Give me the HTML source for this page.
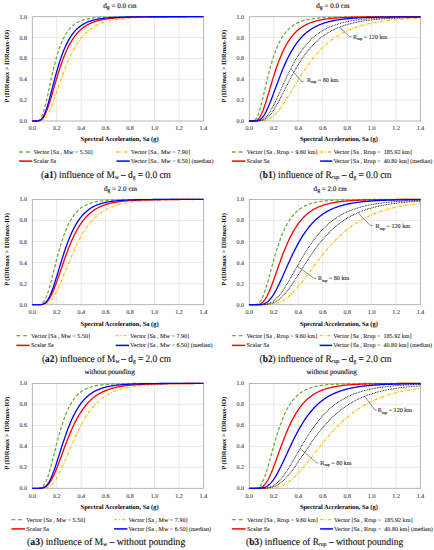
<!DOCTYPE html>
<html><head><meta charset="utf-8"><style>
html,body{margin:0;padding:0;background:#fff;}
svg{display:block;font-family:"Liberation Serif", serif;text-rendering:geometricPrecision;}
.tk{font-size:6.1px;fill:#4a4a4a;stroke:#4a4a4a;stroke-width:0.12px;}
.ti{font-size:7.1px;fill:#1a1a1a;stroke:#1a1a1a;stroke-width:0.15px;}
.an{font-size:6.1px;fill:#333;stroke:#333;stroke-width:0.15px;}
.lg{font-size:6.1px;fill:#2a2a2a;stroke:#2a2a2a;stroke-width:0.1px;}
.cp{font-size:10.1px;fill:#111;stroke:#111;stroke-width:0.12px;}
</style></head><body>
<svg width="434" height="550" viewBox="0 0 434 550">
<rect width="434" height="550" fill="#fff"/>
<path d="M56.74 16.70V121.00M81.19 16.70V121.00M105.63 16.70V121.00M130.07 16.70V121.00M154.51 16.70V121.00M178.96 16.70V121.00M32.30 100.14H203.40M32.30 79.28H203.40M32.30 58.42H203.40M32.30 37.56H203.40" stroke="#E0E0E0" stroke-width="0.7" fill="none"/>
<rect x="32.30" y="16.70" width="171.10" height="104.30" fill="none" stroke="#A6A6A6" stroke-width="0.8"/>
<text x="27.10" y="123.00" text-anchor="end" class="tk">0.0</text>
<text x="27.10" y="102.14" text-anchor="end" class="tk">0.2</text>
<text x="27.10" y="81.28" text-anchor="end" class="tk">0.4</text>
<text x="27.10" y="60.42" text-anchor="end" class="tk">0.6</text>
<text x="27.10" y="39.56" text-anchor="end" class="tk">0.8</text>
<text x="27.10" y="18.70" text-anchor="end" class="tk">1.0</text>
<text x="32.30" y="130.30" text-anchor="middle" class="tk">0.0</text>
<text x="56.74" y="130.30" text-anchor="middle" class="tk">0.2</text>
<text x="81.19" y="130.30" text-anchor="middle" class="tk">0.4</text>
<text x="105.63" y="130.30" text-anchor="middle" class="tk">0.6</text>
<text x="130.07" y="130.30" text-anchor="middle" class="tk">0.8</text>
<text x="154.51" y="130.30" text-anchor="middle" class="tk">1.0</text>
<text x="178.96" y="130.30" text-anchor="middle" class="tk">1.2</text>
<text x="203.40" y="130.30" text-anchor="middle" class="tk">1.4</text>
<text transform="translate(9.30,66.25) rotate(-90)" text-anchor="middle" font-size="6.4" font-weight="bold" fill="#000">P (IDR<tspan font-size="6.4">max</tspan> &gt; IDR<tspan>max-IO</tspan>)</text>
<text x="119.60" y="140.70" text-anchor="middle" font-size="6.45" font-weight="bold" fill="#000">Spectral Acceleration, Sa (g)</text>
<text x="119.90" y="8.20" text-anchor="middle" class="ti">d<tspan font-size="5.6" dy="0.9">g</tspan><tspan dy="-0.9"> = 0.0 cm</tspan></text>
<polyline points="32.30,121.00 32.91,121.00 33.52,121.00 34.13,121.00 34.74,121.00 35.36,121.00 35.97,120.99 36.58,120.96 37.19,120.90 37.80,120.78 38.41,120.56 39.02,120.22 39.63,119.73 40.24,119.05 40.85,118.16 41.47,117.07 42.08,115.75 42.69,114.20 43.30,112.45 43.91,110.49 44.52,108.36 45.13,106.05 45.74,103.61 46.35,101.04 46.97,98.38 47.58,95.65 48.19,92.86 48.80,90.04 49.41,87.21 50.02,84.38 50.63,81.57 51.24,78.79 51.85,76.05 52.47,73.37 53.08,70.75 53.69,68.19 54.30,65.71 54.91,63.31 55.52,61.00 56.13,58.76 56.74,56.61 57.35,54.55 57.97,52.57 58.58,50.68 59.19,48.87 59.80,47.15 60.41,45.50 61.02,43.94 61.63,42.45 62.24,41.03 62.85,39.69 63.46,38.41 64.08,37.21 64.69,36.06 65.30,34.98 65.91,33.95 66.52,32.98 67.13,32.06 67.74,31.19 68.35,30.37 68.96,29.60 69.58,28.87 70.19,28.18 70.80,27.53 71.41,26.92 72.02,26.34 72.63,25.79 73.24,25.27 73.85,24.79 74.46,24.33 75.08,23.90 75.69,23.49 76.30,23.11 76.91,22.75 77.52,22.41 78.13,22.09 78.74,21.78 79.35,21.50 79.96,21.23 80.57,20.98 81.19,20.74 81.80,20.51 82.41,20.30 83.02,20.10 83.63,19.91 84.24,19.74 84.85,19.57 85.46,19.41 86.07,19.26 86.69,19.12 87.30,18.99 87.91,18.86 88.52,18.75 89.13,18.64 89.74,18.53 90.35,18.43 90.96,18.34 91.57,18.25 92.19,18.17 92.80,18.09 93.41,18.01 94.02,17.94 94.63,17.88 95.24,17.82 95.85,17.76 96.46,17.70 97.07,17.65 97.68,17.60 98.30,17.55 98.91,17.51 99.52,17.47 100.13,17.43 100.74,17.39 101.35,17.35 101.96,17.32 102.57,17.29 103.18,17.26 103.80,17.23 104.41,17.20 105.02,17.18 105.63,17.15 106.24,17.13 106.85,17.11 107.46,17.09 108.07,17.07 108.68,17.05 109.30,17.03 109.91,17.02 110.52,17.00 111.13,16.99 111.74,16.97 112.35,16.96 112.96,16.95 113.57,16.93 114.18,16.92 114.79,16.91 115.41,16.90 116.02,16.89 116.63,16.88 117.24,16.87 117.85,16.87 118.46,16.86 119.07,16.85 119.68,16.84 120.29,16.84 120.91,16.83 121.52,16.82 122.13,16.82 122.74,16.81 123.35,16.81 123.96,16.80 124.57,16.80 125.18,16.79 125.79,16.79 126.41,16.78 127.02,16.78 127.63,16.78 128.24,16.77 128.85,16.77 129.46,16.77 130.07,16.76 130.68,16.76 131.29,16.76 131.90,16.76 132.52,16.75 133.13,16.75 133.74,16.75 134.35,16.75 134.96,16.74 135.57,16.74 136.18,16.74 136.79,16.74 137.40,16.74 138.02,16.74 138.63,16.73 139.24,16.73 139.85,16.73 140.46,16.73 141.07,16.73 141.68,16.73 142.29,16.73 142.90,16.72 143.52,16.72 144.13,16.72 144.74,16.72 145.35,16.72 145.96,16.72 146.57,16.72 147.18,16.72 147.79,16.72 148.40,16.72 149.01,16.72 149.63,16.72 150.24,16.71 150.85,16.71 151.46,16.71 152.07,16.71 152.68,16.71 153.29,16.71 153.90,16.71 154.51,16.71 155.13,16.71 155.74,16.71 156.35,16.71 156.96,16.71 157.57,16.71 158.18,16.71 158.79,16.71 159.40,16.71 160.01,16.71 160.62,16.71 161.24,16.71 161.85,16.71 162.46,16.71 163.07,16.71 163.68,16.71 164.29,16.71 164.90,16.71 165.51,16.71 166.12,16.71 166.74,16.70 167.35,16.70 167.96,16.70 168.57,16.70 169.18,16.70 169.79,16.70 170.40,16.70 171.01,16.70 171.62,16.70 172.24,16.70 172.85,16.70 173.46,16.70 174.07,16.70 174.68,16.70 175.29,16.70 175.90,16.70 176.51,16.70 177.12,16.70 177.74,16.70 178.35,16.70 178.96,16.70 179.57,16.70 180.18,16.70 180.79,16.70 181.40,16.70 182.01,16.70 182.62,16.70 183.23,16.70 183.85,16.70 184.46,16.70 185.07,16.70 185.68,16.70 186.29,16.70 186.90,16.70 187.51,16.70 188.12,16.70 188.73,16.70 189.35,16.70 189.96,16.70 190.57,16.70 191.18,16.70 191.79,16.70 192.40,16.70 193.01,16.70 193.62,16.70 194.23,16.70 194.85,16.70 195.46,16.70 196.07,16.70 196.68,16.70 197.29,16.70 197.90,16.70 198.51,16.70 199.12,16.70 199.73,16.70 200.34,16.70 200.96,16.70 201.57,16.70 202.18,16.70 202.79,16.70 203.40,16.70" fill="none" stroke="#70AD47" stroke-width="1.3" stroke-dasharray="3.4 2.0" stroke-linejoin="round"/>
<polyline points="32.30,121.00 32.91,121.00 33.52,121.00 34.13,121.00 34.74,121.00 35.36,121.00 35.97,121.00 36.58,121.00 37.19,120.99 37.80,120.98 38.41,120.96 39.02,120.93 39.63,120.87 40.24,120.78 40.85,120.65 41.47,120.47 42.08,120.24 42.69,119.93 43.30,119.56 43.91,119.10 44.52,118.56 45.13,117.93 45.74,117.21 46.35,116.39 46.97,115.49 47.58,114.49 48.19,113.41 48.80,112.24 49.41,110.99 50.02,109.66 50.63,108.27 51.24,106.81 51.85,105.29 52.47,103.71 53.08,102.09 53.69,100.43 54.30,98.74 54.91,97.01 55.52,95.26 56.13,93.50 56.74,91.72 57.35,89.93 57.97,88.14 58.58,86.35 59.19,84.56 59.80,82.78 60.41,81.02 61.02,79.27 61.63,77.54 62.24,75.83 62.85,74.14 63.46,72.48 64.08,70.84 64.69,69.23 65.30,67.65 65.91,66.10 66.52,64.59 67.13,63.10 67.74,61.65 68.35,60.23 68.96,58.85 69.58,57.50 70.19,56.18 70.80,54.90 71.41,53.65 72.02,52.44 72.63,51.26 73.24,50.11 73.85,49.00 74.46,47.91 75.08,46.86 75.69,45.85 76.30,44.86 76.91,43.90 77.52,42.97 78.13,42.07 78.74,41.20 79.35,40.36 79.96,39.55 80.57,38.76 81.19,37.99 81.80,37.26 82.41,36.54 83.02,35.85 83.63,35.19 84.24,34.54 84.85,33.92 85.46,33.32 86.07,32.74 86.69,32.18 87.30,31.64 87.91,31.11 88.52,30.61 89.13,30.12 89.74,29.65 90.35,29.20 90.96,28.76 91.57,28.34 92.19,27.93 92.80,27.54 93.41,27.16 94.02,26.79 94.63,26.44 95.24,26.10 95.85,25.77 96.46,25.46 97.07,25.15 97.68,24.86 98.30,24.57 98.91,24.30 99.52,24.03 100.13,23.78 100.74,23.53 101.35,23.30 101.96,23.07 102.57,22.85 103.18,22.64 103.80,22.43 104.41,22.23 105.02,22.04 105.63,21.86 106.24,21.68 106.85,21.51 107.46,21.35 108.07,21.19 108.68,21.03 109.30,20.89 109.91,20.74 110.52,20.61 111.13,20.47 111.74,20.34 112.35,20.22 112.96,20.10 113.57,19.99 114.18,19.88 114.79,19.77 115.41,19.67 116.02,19.57 116.63,19.47 117.24,19.38 117.85,19.29 118.46,19.20 119.07,19.12 119.68,19.04 120.29,18.96 120.91,18.89 121.52,18.81 122.13,18.74 122.74,18.68 123.35,18.61 123.96,18.55 124.57,18.49 125.18,18.43 125.79,18.37 126.41,18.32 127.02,18.27 127.63,18.21 128.24,18.17 128.85,18.12 129.46,18.07 130.07,18.03 130.68,17.99 131.29,17.94 131.90,17.90 132.52,17.87 133.13,17.83 133.74,17.79 134.35,17.76 134.96,17.72 135.57,17.69 136.18,17.66 136.79,17.63 137.40,17.60 138.02,17.57 138.63,17.54 139.24,17.52 139.85,17.49 140.46,17.47 141.07,17.44 141.68,17.42 142.29,17.40 142.90,17.38 143.52,17.36 144.13,17.34 144.74,17.32 145.35,17.30 145.96,17.28 146.57,17.26 147.18,17.24 147.79,17.23 148.40,17.21 149.01,17.19 149.63,17.18 150.24,17.17 150.85,17.15 151.46,17.14 152.07,17.12 152.68,17.11 153.29,17.10 153.90,17.09 154.51,17.08 155.13,17.06 155.74,17.05 156.35,17.04 156.96,17.03 157.57,17.02 158.18,17.01 158.79,17.00 159.40,17.00 160.01,16.99 160.62,16.98 161.24,16.97 161.85,16.96 162.46,16.95 163.07,16.95 163.68,16.94 164.29,16.93 164.90,16.93 165.51,16.92 166.12,16.91 166.74,16.91 167.35,16.90 167.96,16.90 168.57,16.89 169.18,16.88 169.79,16.88 170.40,16.87 171.01,16.87 171.62,16.86 172.24,16.86 172.85,16.85 173.46,16.85 174.07,16.85 174.68,16.84 175.29,16.84 175.90,16.83 176.51,16.83 177.12,16.83 177.74,16.82 178.35,16.82 178.96,16.82 179.57,16.81 180.18,16.81 180.79,16.81 181.40,16.80 182.01,16.80 182.62,16.80 183.23,16.80 183.85,16.79 184.46,16.79 185.07,16.79 185.68,16.79 186.29,16.78 186.90,16.78 187.51,16.78 188.12,16.78 188.73,16.77 189.35,16.77 189.96,16.77 190.57,16.77 191.18,16.77 191.79,16.77 192.40,16.76 193.01,16.76 193.62,16.76 194.23,16.76 194.85,16.76 195.46,16.76 196.07,16.75 196.68,16.75 197.29,16.75 197.90,16.75 198.51,16.75 199.12,16.75 199.73,16.75 200.34,16.74 200.96,16.74 201.57,16.74 202.18,16.74 202.79,16.74 203.40,16.74" fill="none" stroke="#FFC000" stroke-width="1.2" stroke-dasharray="3.2 1.3 0.9 1.3" stroke-linejoin="round"/>
<polyline points="32.30,121.00 32.91,121.00 33.52,121.00 34.13,121.00 34.74,121.00 35.36,121.00 35.97,121.00 36.58,120.99 37.19,120.97 37.80,120.94 38.41,120.87 39.02,120.76 39.63,120.59 40.24,120.34 40.85,120.01 41.47,119.57 42.08,119.02 42.69,118.35 43.30,117.56 43.91,116.63 44.52,115.57 45.13,114.39 45.74,113.08 46.35,111.66 46.97,110.12 47.58,108.49 48.19,106.76 48.80,104.95 49.41,103.07 50.02,101.12 50.63,99.12 51.24,97.08 51.85,95.01 52.47,92.92 53.08,90.80 53.69,88.68 54.30,86.56 54.91,84.45 55.52,82.35 56.13,80.27 56.74,78.21 57.35,76.18 57.97,74.18 58.58,72.21 59.19,70.29 59.80,68.40 60.41,66.56 61.02,64.76 61.63,63.00 62.24,61.29 62.85,59.63 63.46,58.02 64.08,56.45 64.69,54.93 65.30,53.46 65.91,52.04 66.52,50.66 67.13,49.33 67.74,48.05 68.35,46.81 68.96,45.61 69.58,44.46 70.19,43.34 70.80,42.27 71.41,41.24 72.02,40.25 72.63,39.30 73.24,38.38 73.85,37.50 74.46,36.65 75.08,35.83 75.69,35.05 76.30,34.30 76.91,33.58 77.52,32.89 78.13,32.22 78.74,31.58 79.35,30.97 79.96,30.39 80.57,29.82 81.19,29.28 81.80,28.77 82.41,28.27 83.02,27.80 83.63,27.34 84.24,26.90 84.85,26.48 85.46,26.08 86.07,25.70 86.69,25.33 87.30,24.98 87.91,24.64 88.52,24.31 89.13,24.00 89.74,23.71 90.35,23.42 90.96,23.15 91.57,22.89 92.19,22.64 92.80,22.40 93.41,22.17 94.02,21.95 94.63,21.73 95.24,21.53 95.85,21.34 96.46,21.15 97.07,20.97 97.68,20.80 98.30,20.64 98.91,20.48 99.52,20.33 100.13,20.19 100.74,20.05 101.35,19.92 101.96,19.79 102.57,19.67 103.18,19.55 103.80,19.44 104.41,19.33 105.02,19.23 105.63,19.13 106.24,19.04 106.85,18.95 107.46,18.86 108.07,18.77 108.68,18.69 109.30,18.62 109.91,18.54 110.52,18.47 111.13,18.41 111.74,18.34 112.35,18.28 112.96,18.22 113.57,18.16 114.18,18.10 114.79,18.05 115.41,18.00 116.02,17.95 116.63,17.90 117.24,17.86 117.85,17.82 118.46,17.77 119.07,17.73 119.68,17.70 120.29,17.66 120.91,17.62 121.52,17.59 122.13,17.56 122.74,17.53 123.35,17.49 123.96,17.47 124.57,17.44 125.18,17.41 125.79,17.39 126.41,17.36 127.02,17.34 127.63,17.31 128.24,17.29 128.85,17.27 129.46,17.25 130.07,17.23 130.68,17.21 131.29,17.19 131.90,17.18 132.52,17.16 133.13,17.14 133.74,17.13 134.35,17.11 134.96,17.10 135.57,17.08 136.18,17.07 136.79,17.06 137.40,17.04 138.02,17.03 138.63,17.02 139.24,17.01 139.85,17.00 140.46,16.99 141.07,16.98 141.68,16.97 142.29,16.96 142.90,16.95 143.52,16.94 144.13,16.93 144.74,16.93 145.35,16.92 145.96,16.91 146.57,16.90 147.18,16.90 147.79,16.89 148.40,16.88 149.01,16.88 149.63,16.87 150.24,16.87 150.85,16.86 151.46,16.86 152.07,16.85 152.68,16.85 153.29,16.84 153.90,16.84 154.51,16.83 155.13,16.83 155.74,16.82 156.35,16.82 156.96,16.82 157.57,16.81 158.18,16.81 158.79,16.80 159.40,16.80 160.01,16.80 160.62,16.79 161.24,16.79 161.85,16.79 162.46,16.79 163.07,16.78 163.68,16.78 164.29,16.78 164.90,16.78 165.51,16.77 166.12,16.77 166.74,16.77 167.35,16.77 167.96,16.76 168.57,16.76 169.18,16.76 169.79,16.76 170.40,16.76 171.01,16.75 171.62,16.75 172.24,16.75 172.85,16.75 173.46,16.75 174.07,16.75 174.68,16.75 175.29,16.74 175.90,16.74 176.51,16.74 177.12,16.74 177.74,16.74 178.35,16.74 178.96,16.74 179.57,16.74 180.18,16.73 180.79,16.73 181.40,16.73 182.01,16.73 182.62,16.73 183.23,16.73 183.85,16.73 184.46,16.73 185.07,16.73 185.68,16.73 186.29,16.73 186.90,16.72 187.51,16.72 188.12,16.72 188.73,16.72 189.35,16.72 189.96,16.72 190.57,16.72 191.18,16.72 191.79,16.72 192.40,16.72 193.01,16.72 193.62,16.72 194.23,16.72 194.85,16.72 195.46,16.72 196.07,16.72 196.68,16.72 197.29,16.72 197.90,16.71 198.51,16.71 199.12,16.71 199.73,16.71 200.34,16.71 200.96,16.71 201.57,16.71 202.18,16.71 202.79,16.71 203.40,16.71" fill="none" stroke="#FF0000" stroke-width="1.3" stroke-linejoin="round"/>
<polyline points="32.30,121.00 32.91,121.00 33.52,121.00 34.13,121.00 34.74,121.00 35.36,121.00 35.97,121.00 36.58,120.99 37.19,120.97 37.80,120.92 38.41,120.83 39.02,120.68 39.63,120.46 40.24,120.14 40.85,119.71 41.47,119.14 42.08,118.44 42.69,117.58 43.30,116.57 43.91,115.40 44.52,114.08 45.13,112.61 45.74,111.01 46.35,109.27 46.97,107.41 47.58,105.45 48.19,103.39 48.80,101.26 49.41,99.05 50.02,96.80 50.63,94.50 51.24,92.17 51.85,89.83 52.47,87.48 53.08,85.13 53.69,82.79 54.30,80.48 54.91,78.19 55.52,75.93 56.13,73.71 56.74,71.53 57.35,69.40 57.97,67.31 58.58,65.29 59.19,63.31 59.80,61.39 60.41,59.53 61.02,57.73 61.63,55.99 62.24,54.31 62.85,52.68 63.46,51.11 64.08,49.60 64.69,48.15 65.30,46.76 65.91,45.41 66.52,44.13 67.13,42.89 67.74,41.71 68.35,40.57 68.96,39.48 69.58,38.44 70.19,37.44 70.80,36.49 71.41,35.58 72.02,34.71 72.63,33.88 73.24,33.08 73.85,32.32 74.46,31.60 75.08,30.90 75.69,30.24 76.30,29.61 76.91,29.01 77.52,28.44 78.13,27.89 78.74,27.37 79.35,26.88 79.96,26.40 80.57,25.95 81.19,25.52 81.80,25.11 82.41,24.72 83.02,24.35 83.63,24.00 84.24,23.66 84.85,23.34 85.46,23.03 86.07,22.74 86.69,22.46 87.30,22.19 87.91,21.94 88.52,21.70 89.13,21.47 89.74,21.25 90.35,21.05 90.96,20.85 91.57,20.66 92.19,20.48 92.80,20.31 93.41,20.14 94.02,19.99 94.63,19.84 95.24,19.70 95.85,19.56 96.46,19.43 97.07,19.31 97.68,19.20 98.30,19.08 98.91,18.98 99.52,18.88 100.13,18.78 100.74,18.69 101.35,18.60 101.96,18.52 102.57,18.44 103.18,18.36 103.80,18.29 104.41,18.22 105.02,18.15 105.63,18.09 106.24,18.03 106.85,17.97 107.46,17.92 108.07,17.86 108.68,17.81 109.30,17.77 109.91,17.72 110.52,17.68 111.13,17.64 111.74,17.60 112.35,17.56 112.96,17.52 113.57,17.49 114.18,17.45 114.79,17.42 115.41,17.39 116.02,17.36 116.63,17.34 117.24,17.31 117.85,17.28 118.46,17.26 119.07,17.24 119.68,17.21 120.29,17.19 120.91,17.17 121.52,17.15 122.13,17.13 122.74,17.12 123.35,17.10 123.96,17.08 124.57,17.07 125.18,17.05 125.79,17.04 126.41,17.03 127.02,17.01 127.63,17.00 128.24,16.99 128.85,16.98 129.46,16.97 130.07,16.96 130.68,16.94 131.29,16.94 131.90,16.93 132.52,16.92 133.13,16.91 133.74,16.90 134.35,16.89 134.96,16.89 135.57,16.88 136.18,16.87 136.79,16.86 137.40,16.86 138.02,16.85 138.63,16.85 139.24,16.84 139.85,16.84 140.46,16.83 141.07,16.83 141.68,16.82 142.29,16.82 142.90,16.81 143.52,16.81 144.13,16.80 144.74,16.80 145.35,16.80 145.96,16.79 146.57,16.79 147.18,16.79 147.79,16.78 148.40,16.78 149.01,16.78 149.63,16.77 150.24,16.77 150.85,16.77 151.46,16.77 152.07,16.76 152.68,16.76 153.29,16.76 153.90,16.76 154.51,16.75 155.13,16.75 155.74,16.75 156.35,16.75 156.96,16.75 157.57,16.75 158.18,16.74 158.79,16.74 159.40,16.74 160.01,16.74 160.62,16.74 161.24,16.74 161.85,16.74 162.46,16.73 163.07,16.73 163.68,16.73 164.29,16.73 164.90,16.73 165.51,16.73 166.12,16.73 166.74,16.73 167.35,16.73 167.96,16.72 168.57,16.72 169.18,16.72 169.79,16.72 170.40,16.72 171.01,16.72 171.62,16.72 172.24,16.72 172.85,16.72 173.46,16.72 174.07,16.72 174.68,16.72 175.29,16.72 175.90,16.72 176.51,16.72 177.12,16.71 177.74,16.71 178.35,16.71 178.96,16.71 179.57,16.71 180.18,16.71 180.79,16.71 181.40,16.71 182.01,16.71 182.62,16.71 183.23,16.71 183.85,16.71 184.46,16.71 185.07,16.71 185.68,16.71 186.29,16.71 186.90,16.71 187.51,16.71 188.12,16.71 188.73,16.71 189.35,16.71 189.96,16.71 190.57,16.71 191.18,16.71 191.79,16.71 192.40,16.71 193.01,16.71 193.62,16.71 194.23,16.71 194.85,16.71 195.46,16.71 196.07,16.71 196.68,16.71 197.29,16.71 197.90,16.70 198.51,16.70 199.12,16.70 199.73,16.70 200.34,16.70 200.96,16.70 201.57,16.70 202.18,16.70 202.79,16.70 203.40,16.70" fill="none" stroke="#0000FF" stroke-width="1.3" stroke-linejoin="round"/>
<path d="M56.74 199.40V304.70M81.19 199.40V304.70M105.63 199.40V304.70M130.07 199.40V304.70M154.51 199.40V304.70M178.96 199.40V304.70M32.30 283.64H203.40M32.30 262.58H203.40M32.30 241.52H203.40M32.30 220.46H203.40" stroke="#E0E0E0" stroke-width="0.7" fill="none"/>
<rect x="32.30" y="199.40" width="171.10" height="105.30" fill="none" stroke="#A6A6A6" stroke-width="0.8"/>
<text x="27.10" y="306.70" text-anchor="end" class="tk">0.0</text>
<text x="27.10" y="285.64" text-anchor="end" class="tk">0.2</text>
<text x="27.10" y="264.58" text-anchor="end" class="tk">0.4</text>
<text x="27.10" y="243.52" text-anchor="end" class="tk">0.6</text>
<text x="27.10" y="222.46" text-anchor="end" class="tk">0.8</text>
<text x="27.10" y="201.40" text-anchor="end" class="tk">1.0</text>
<text x="32.30" y="314.00" text-anchor="middle" class="tk">0.0</text>
<text x="56.74" y="314.00" text-anchor="middle" class="tk">0.2</text>
<text x="81.19" y="314.00" text-anchor="middle" class="tk">0.4</text>
<text x="105.63" y="314.00" text-anchor="middle" class="tk">0.6</text>
<text x="130.07" y="314.00" text-anchor="middle" class="tk">0.8</text>
<text x="154.51" y="314.00" text-anchor="middle" class="tk">1.0</text>
<text x="178.96" y="314.00" text-anchor="middle" class="tk">1.2</text>
<text x="203.40" y="314.00" text-anchor="middle" class="tk">1.4</text>
<text transform="translate(9.30,249.45) rotate(-90)" text-anchor="middle" font-size="6.4" font-weight="bold" fill="#000">P (IDR<tspan font-size="6.4">max</tspan> &gt; IDR<tspan>max-IO</tspan>)</text>
<text x="119.60" y="325.90" text-anchor="middle" font-size="6.45" font-weight="bold" fill="#000">Spectral Acceleration, Sa (g)</text>
<text x="120.50" y="190.70" text-anchor="middle" class="ti">d<tspan font-size="5.6" dy="0.9">g</tspan><tspan dy="-0.9"> = 2.0 cm</tspan></text>
<polyline points="32.30,304.70 32.91,304.70 33.52,304.70 34.13,304.70 34.74,304.70 35.36,304.70 35.97,304.70 36.58,304.70 37.19,304.69 37.80,304.68 38.41,304.65 39.02,304.60 39.63,304.51 40.24,304.37 40.85,304.15 41.47,303.85 42.08,303.44 42.69,302.91 43.30,302.25 43.91,301.44 44.52,300.49 45.13,299.38 45.74,298.11 46.35,296.70 46.97,295.13 47.58,293.43 48.19,291.60 48.80,289.66 49.41,287.60 50.02,285.46 50.63,283.23 51.24,280.94 51.85,278.59 52.47,276.20 53.08,273.78 53.69,271.35 54.30,268.91 54.91,266.48 55.52,264.05 56.13,261.65 56.74,259.28 57.35,256.95 57.97,254.65 58.58,252.41 59.19,250.21 59.80,248.06 60.41,245.98 61.02,243.95 61.63,241.99 62.24,240.08 62.85,238.24 63.46,236.47 64.08,234.76 64.69,233.11 65.30,231.52 65.91,230.00 66.52,228.54 67.13,227.13 67.74,225.79 68.35,224.50 68.96,223.27 69.58,222.10 70.19,220.97 70.80,219.90 71.41,218.88 72.02,217.90 72.63,216.97 73.24,216.08 73.85,215.24 74.46,214.44 75.08,213.67 75.69,212.95 76.30,212.25 76.91,211.60 77.52,210.97 78.13,210.38 78.74,209.82 79.35,209.28 79.96,208.77 80.57,208.29 81.19,207.83 81.80,207.40 82.41,206.99 83.02,206.60 83.63,206.23 84.24,205.87 84.85,205.54 85.46,205.22 86.07,204.93 86.69,204.64 87.30,204.37 87.91,204.12 88.52,203.87 89.13,203.64 89.74,203.43 90.35,203.22 90.96,203.03 91.57,202.84 92.19,202.66 92.80,202.50 93.41,202.34 94.02,202.19 94.63,202.05 95.24,201.91 95.85,201.79 96.46,201.67 97.07,201.55 97.68,201.44 98.30,201.34 98.91,201.24 99.52,201.15 100.13,201.06 100.74,200.98 101.35,200.90 101.96,200.83 102.57,200.75 103.18,200.69 103.80,200.62 104.41,200.56 105.02,200.51 105.63,200.45 106.24,200.40 106.85,200.35 107.46,200.30 108.07,200.26 108.68,200.22 109.30,200.18 109.91,200.14 110.52,200.10 111.13,200.07 111.74,200.04 112.35,200.01 112.96,199.98 113.57,199.95 114.18,199.92 114.79,199.90 115.41,199.87 116.02,199.85 116.63,199.83 117.24,199.81 117.85,199.79 118.46,199.77 119.07,199.75 119.68,199.74 120.29,199.72 120.91,199.71 121.52,199.69 122.13,199.68 122.74,199.67 123.35,199.65 123.96,199.64 124.57,199.63 125.18,199.62 125.79,199.61 126.41,199.60 127.02,199.59 127.63,199.58 128.24,199.57 128.85,199.57 129.46,199.56 130.07,199.55 130.68,199.54 131.29,199.54 131.90,199.53 132.52,199.53 133.13,199.52 133.74,199.51 134.35,199.51 134.96,199.50 135.57,199.50 136.18,199.50 136.79,199.49 137.40,199.49 138.02,199.48 138.63,199.48 139.24,199.48 139.85,199.47 140.46,199.47 141.07,199.47 141.68,199.46 142.29,199.46 142.90,199.46 143.52,199.46 144.13,199.45 144.74,199.45 145.35,199.45 145.96,199.45 146.57,199.44 147.18,199.44 147.79,199.44 148.40,199.44 149.01,199.44 149.63,199.44 150.24,199.43 150.85,199.43 151.46,199.43 152.07,199.43 152.68,199.43 153.29,199.43 153.90,199.43 154.51,199.43 155.13,199.42 155.74,199.42 156.35,199.42 156.96,199.42 157.57,199.42 158.18,199.42 158.79,199.42 159.40,199.42 160.01,199.42 160.62,199.42 161.24,199.42 161.85,199.42 162.46,199.41 163.07,199.41 163.68,199.41 164.29,199.41 164.90,199.41 165.51,199.41 166.12,199.41 166.74,199.41 167.35,199.41 167.96,199.41 168.57,199.41 169.18,199.41 169.79,199.41 170.40,199.41 171.01,199.41 171.62,199.41 172.24,199.41 172.85,199.41 173.46,199.41 174.07,199.41 174.68,199.41 175.29,199.41 175.90,199.41 176.51,199.41 177.12,199.41 177.74,199.41 178.35,199.41 178.96,199.40 179.57,199.40 180.18,199.40 180.79,199.40 181.40,199.40 182.01,199.40 182.62,199.40 183.23,199.40 183.85,199.40 184.46,199.40 185.07,199.40 185.68,199.40 186.29,199.40 186.90,199.40 187.51,199.40 188.12,199.40 188.73,199.40 189.35,199.40 189.96,199.40 190.57,199.40 191.18,199.40 191.79,199.40 192.40,199.40 193.01,199.40 193.62,199.40 194.23,199.40 194.85,199.40 195.46,199.40 196.07,199.40 196.68,199.40 197.29,199.40 197.90,199.40 198.51,199.40 199.12,199.40 199.73,199.40 200.34,199.40 200.96,199.40 201.57,199.40 202.18,199.40 202.79,199.40 203.40,199.40" fill="none" stroke="#70AD47" stroke-width="1.3" stroke-dasharray="3.4 2.0" stroke-linejoin="round"/>
<polyline points="32.30,304.70 32.91,304.70 33.52,304.70 34.13,304.70 34.74,304.70 35.36,304.70 35.97,304.70 36.58,304.70 37.19,304.70 37.80,304.70 38.41,304.70 39.02,304.70 39.63,304.69 40.24,304.69 40.85,304.67 41.47,304.65 42.08,304.62 42.69,304.58 43.30,304.51 43.91,304.43 44.52,304.31 45.13,304.17 45.74,303.99 46.35,303.77 46.97,303.50 47.58,303.19 48.19,302.82 48.80,302.40 49.41,301.92 50.02,301.38 50.63,300.77 51.24,300.11 51.85,299.38 52.47,298.59 53.08,297.74 53.69,296.83 54.30,295.86 54.91,294.83 55.52,293.75 56.13,292.62 56.74,291.43 57.35,290.20 57.97,288.93 58.58,287.62 59.19,286.27 59.80,284.88 60.41,283.47 61.02,282.03 61.63,280.57 62.24,279.09 62.85,277.59 63.46,276.08 64.08,274.55 64.69,273.02 65.30,271.49 65.91,269.95 66.52,268.42 67.13,266.88 67.74,265.36 68.35,263.84 68.96,262.33 69.58,260.83 70.19,259.34 70.80,257.87 71.41,256.42 72.02,254.98 72.63,253.56 73.24,252.16 73.85,250.78 74.46,249.42 75.08,248.09 75.69,246.78 76.30,245.49 76.91,244.22 77.52,242.98 78.13,241.77 78.74,240.58 79.35,239.41 79.96,238.27 80.57,237.15 81.19,236.06 81.80,235.00 82.41,233.95 83.02,232.94 83.63,231.95 84.24,230.98 84.85,230.04 85.46,229.12 86.07,228.23 86.69,227.36 87.30,226.51 87.91,225.68 88.52,224.88 89.13,224.10 89.74,223.34 90.35,222.60 90.96,221.88 91.57,221.19 92.19,220.51 92.80,219.85 93.41,219.21 94.02,218.59 94.63,217.99 95.24,217.41 95.85,216.84 96.46,216.29 97.07,215.76 97.68,215.24 98.30,214.74 98.91,214.25 99.52,213.78 100.13,213.32 100.74,212.88 101.35,212.45 101.96,212.03 102.57,211.63 103.18,211.24 103.80,210.86 104.41,210.50 105.02,210.14 105.63,209.80 106.24,209.47 106.85,209.14 107.46,208.83 108.07,208.53 108.68,208.24 109.30,207.95 109.91,207.68 110.52,207.41 111.13,207.16 111.74,206.91 112.35,206.67 112.96,206.44 113.57,206.21 114.18,205.99 114.79,205.78 115.41,205.58 116.02,205.38 116.63,205.19 117.24,205.00 117.85,204.82 118.46,204.65 119.07,204.48 119.68,204.32 120.29,204.17 120.91,204.01 121.52,203.87 122.13,203.72 122.74,203.59 123.35,203.45 123.96,203.33 124.57,203.20 125.18,203.08 125.79,202.96 126.41,202.85 127.02,202.74 127.63,202.64 128.24,202.53 128.85,202.44 129.46,202.34 130.07,202.25 130.68,202.16 131.29,202.07 131.90,201.99 132.52,201.91 133.13,201.83 133.74,201.75 134.35,201.68 134.96,201.61 135.57,201.54 136.18,201.47 136.79,201.41 137.40,201.34 138.02,201.28 138.63,201.23 139.24,201.17 139.85,201.11 140.46,201.06 141.07,201.01 141.68,200.96 142.29,200.91 142.90,200.87 143.52,200.82 144.13,200.78 144.74,200.74 145.35,200.69 145.96,200.65 146.57,200.62 147.18,200.58 147.79,200.54 148.40,200.51 149.01,200.47 149.63,200.44 150.24,200.41 150.85,200.38 151.46,200.35 152.07,200.32 152.68,200.29 153.29,200.27 153.90,200.24 154.51,200.22 155.13,200.19 155.74,200.17 156.35,200.14 156.96,200.12 157.57,200.10 158.18,200.08 158.79,200.06 159.40,200.04 160.01,200.02 160.62,200.00 161.24,199.98 161.85,199.97 162.46,199.95 163.07,199.93 163.68,199.92 164.29,199.90 164.90,199.89 165.51,199.87 166.12,199.86 166.74,199.85 167.35,199.83 167.96,199.82 168.57,199.81 169.18,199.80 169.79,199.79 170.40,199.77 171.01,199.76 171.62,199.75 172.24,199.74 172.85,199.73 173.46,199.72 174.07,199.71 174.68,199.71 175.29,199.70 175.90,199.69 176.51,199.68 177.12,199.67 177.74,199.66 178.35,199.66 178.96,199.65 179.57,199.64 180.18,199.64 180.79,199.63 181.40,199.62 182.01,199.62 182.62,199.61 183.23,199.60 183.85,199.60 184.46,199.59 185.07,199.59 185.68,199.58 186.29,199.58 186.90,199.57 187.51,199.57 188.12,199.56 188.73,199.56 189.35,199.55 189.96,199.55 190.57,199.55 191.18,199.54 191.79,199.54 192.40,199.53 193.01,199.53 193.62,199.53 194.23,199.52 194.85,199.52 195.46,199.52 196.07,199.51 196.68,199.51 197.29,199.51 197.90,199.50 198.51,199.50 199.12,199.50 199.73,199.50 200.34,199.49 200.96,199.49 201.57,199.49 202.18,199.49 202.79,199.48 203.40,199.48" fill="none" stroke="#FFC000" stroke-width="1.2" stroke-dasharray="3.2 1.3 0.9 1.3" stroke-linejoin="round"/>
<polyline points="32.30,304.70 32.91,304.70 33.52,304.70 34.13,304.70 34.74,304.70 35.36,304.70 35.97,304.70 36.58,304.70 37.19,304.70 37.80,304.70 38.41,304.69 39.02,304.69 39.63,304.67 40.24,304.64 40.85,304.60 41.47,304.54 42.08,304.44 42.69,304.31 43.30,304.13 43.91,303.91 44.52,303.62 45.13,303.27 45.74,302.85 46.35,302.35 46.97,301.77 47.58,301.11 48.19,300.36 48.80,299.52 49.41,298.60 50.02,297.59 50.63,296.50 51.24,295.33 51.85,294.08 52.47,292.76 53.08,291.37 53.69,289.91 54.30,288.40 54.91,286.83 55.52,285.21 56.13,283.56 56.74,281.86 57.35,280.13 57.97,278.38 58.58,276.61 59.19,274.82 59.80,273.02 60.41,271.21 61.02,269.40 61.63,267.60 62.24,265.80 62.85,264.01 63.46,262.23 64.08,260.47 64.69,258.72 65.30,257.00 65.91,255.30 66.52,253.63 67.13,251.98 67.74,250.37 68.35,248.78 68.96,247.22 69.58,245.70 70.19,244.21 70.80,242.75 71.41,241.33 72.02,239.94 72.63,238.59 73.24,237.27 73.85,235.98 74.46,234.73 75.08,233.52 75.69,232.34 76.30,231.19 76.91,230.08 77.52,229.00 78.13,227.96 78.74,226.94 79.35,225.96 79.96,225.01 80.57,224.09 81.19,223.20 81.80,222.33 82.41,221.50 83.02,220.69 83.63,219.92 84.24,219.16 84.85,218.44 85.46,217.74 86.07,217.06 86.69,216.41 87.30,215.78 87.91,215.17 88.52,214.58 89.13,214.02 89.74,213.47 90.35,212.95 90.96,212.44 91.57,211.96 92.19,211.49 92.80,211.03 93.41,210.60 94.02,210.18 94.63,209.77 95.24,209.38 95.85,209.01 96.46,208.65 97.07,208.30 97.68,207.97 98.30,207.64 98.91,207.33 99.52,207.04 100.13,206.75 100.74,206.47 101.35,206.21 101.96,205.95 102.57,205.71 103.18,205.47 103.80,205.24 104.41,205.02 105.02,204.81 105.63,204.61 106.24,204.41 106.85,204.23 107.46,204.05 108.07,203.87 108.68,203.71 109.30,203.55 109.91,203.39 110.52,203.24 111.13,203.10 111.74,202.96 112.35,202.83 112.96,202.70 113.57,202.58 114.18,202.46 114.79,202.35 115.41,202.24 116.02,202.14 116.63,202.04 117.24,201.94 117.85,201.85 118.46,201.76 119.07,201.67 119.68,201.59 120.29,201.51 120.91,201.43 121.52,201.36 122.13,201.28 122.74,201.22 123.35,201.15 123.96,201.09 124.57,201.02 125.18,200.97 125.79,200.91 126.41,200.86 127.02,200.80 127.63,200.75 128.24,200.70 128.85,200.66 129.46,200.61 130.07,200.57 130.68,200.53 131.29,200.49 131.90,200.45 132.52,200.41 133.13,200.37 133.74,200.34 134.35,200.31 134.96,200.27 135.57,200.24 136.18,200.21 136.79,200.19 137.40,200.16 138.02,200.13 138.63,200.11 139.24,200.08 139.85,200.06 140.46,200.03 141.07,200.01 141.68,199.99 142.29,199.97 142.90,199.95 143.52,199.93 144.13,199.91 144.74,199.90 145.35,199.88 145.96,199.86 146.57,199.85 147.18,199.83 147.79,199.82 148.40,199.80 149.01,199.79 149.63,199.78 150.24,199.76 150.85,199.75 151.46,199.74 152.07,199.73 152.68,199.72 153.29,199.71 153.90,199.70 154.51,199.69 155.13,199.68 155.74,199.67 156.35,199.66 156.96,199.65 157.57,199.64 158.18,199.63 158.79,199.62 159.40,199.62 160.01,199.61 160.62,199.60 161.24,199.60 161.85,199.59 162.46,199.58 163.07,199.58 163.68,199.57 164.29,199.57 164.90,199.56 165.51,199.56 166.12,199.55 166.74,199.55 167.35,199.54 167.96,199.54 168.57,199.53 169.18,199.53 169.79,199.52 170.40,199.52 171.01,199.52 171.62,199.51 172.24,199.51 172.85,199.51 173.46,199.50 174.07,199.50 174.68,199.50 175.29,199.49 175.90,199.49 176.51,199.49 177.12,199.48 177.74,199.48 178.35,199.48 178.96,199.48 179.57,199.47 180.18,199.47 180.79,199.47 181.40,199.47 182.01,199.47 182.62,199.46 183.23,199.46 183.85,199.46 184.46,199.46 185.07,199.46 185.68,199.45 186.29,199.45 186.90,199.45 187.51,199.45 188.12,199.45 188.73,199.45 189.35,199.44 189.96,199.44 190.57,199.44 191.18,199.44 191.79,199.44 192.40,199.44 193.01,199.44 193.62,199.44 194.23,199.43 194.85,199.43 195.46,199.43 196.07,199.43 196.68,199.43 197.29,199.43 197.90,199.43 198.51,199.43 199.12,199.43 199.73,199.43 200.34,199.43 200.96,199.43 201.57,199.42 202.18,199.42 202.79,199.42 203.40,199.42" fill="none" stroke="#FF0000" stroke-width="1.3" stroke-linejoin="round"/>
<polyline points="32.30,304.70 32.91,304.70 33.52,304.70 34.13,304.70 34.74,304.70 35.36,304.70 35.97,304.70 36.58,304.70 37.19,304.70 37.80,304.70 38.41,304.69 39.02,304.68 39.63,304.66 40.24,304.63 40.85,304.57 41.47,304.48 42.08,304.36 42.69,304.18 43.30,303.95 43.91,303.65 44.52,303.27 45.13,302.80 45.74,302.25 46.35,301.59 46.97,300.83 47.58,299.97 48.19,299.00 48.80,297.93 49.41,296.75 50.02,295.48 50.63,294.10 51.24,292.64 51.85,291.09 52.47,289.46 53.08,287.76 53.69,285.99 54.30,284.17 54.91,282.29 55.52,280.38 56.13,278.42 56.74,276.44 57.35,274.44 57.97,272.43 58.58,270.41 59.19,268.38 59.80,266.36 60.41,264.35 61.02,262.35 61.63,260.38 62.24,258.42 62.85,256.49 63.46,254.59 64.08,252.72 64.69,250.88 65.30,249.08 65.91,247.32 66.52,245.60 67.13,243.92 67.74,242.28 68.35,240.68 68.96,239.13 69.58,237.62 70.19,236.16 70.80,234.74 71.41,233.36 72.02,232.03 72.63,230.74 73.24,229.49 73.85,228.29 74.46,227.12 75.08,226.00 75.69,224.92 76.30,223.87 76.91,222.87 77.52,221.90 78.13,220.97 78.74,220.07 79.35,219.21 79.96,218.38 80.57,217.58 81.19,216.81 81.80,216.08 82.41,215.37 83.02,214.69 83.63,214.04 84.24,213.42 84.85,212.82 85.46,212.24 86.07,211.69 86.69,211.17 87.30,210.66 87.91,210.18 88.52,209.71 89.13,209.27 89.74,208.84 90.35,208.44 90.96,208.05 91.57,207.67 92.19,207.32 92.80,206.97 93.41,206.65 94.02,206.33 94.63,206.03 95.24,205.75 95.85,205.47 96.46,205.21 97.07,204.96 97.68,204.72 98.30,204.49 98.91,204.27 99.52,204.06 100.13,203.86 100.74,203.67 101.35,203.48 101.96,203.31 102.57,203.14 103.18,202.98 103.80,202.82 104.41,202.68 105.02,202.54 105.63,202.40 106.24,202.27 106.85,202.15 107.46,202.03 108.07,201.92 108.68,201.81 109.30,201.71 109.91,201.61 110.52,201.52 111.13,201.43 111.74,201.34 112.35,201.26 112.96,201.18 113.57,201.11 114.18,201.04 114.79,200.97 115.41,200.90 116.02,200.84 116.63,200.78 117.24,200.72 117.85,200.66 118.46,200.61 119.07,200.56 119.68,200.51 120.29,200.47 120.91,200.42 121.52,200.38 122.13,200.34 122.74,200.30 123.35,200.26 123.96,200.23 124.57,200.19 125.18,200.16 125.79,200.13 126.41,200.10 127.02,200.07 127.63,200.04 128.24,200.02 128.85,199.99 129.46,199.97 130.07,199.95 130.68,199.92 131.29,199.90 131.90,199.88 132.52,199.86 133.13,199.84 133.74,199.83 134.35,199.81 134.96,199.79 135.57,199.78 136.18,199.76 136.79,199.75 137.40,199.73 138.02,199.72 138.63,199.71 139.24,199.70 139.85,199.68 140.46,199.67 141.07,199.66 141.68,199.65 142.29,199.64 142.90,199.63 143.52,199.62 144.13,199.62 144.74,199.61 145.35,199.60 145.96,199.59 146.57,199.58 147.18,199.58 147.79,199.57 148.40,199.56 149.01,199.56 149.63,199.55 150.24,199.55 150.85,199.54 151.46,199.53 152.07,199.53 152.68,199.52 153.29,199.52 153.90,199.52 154.51,199.51 155.13,199.51 155.74,199.50 156.35,199.50 156.96,199.50 157.57,199.49 158.18,199.49 158.79,199.48 159.40,199.48 160.01,199.48 160.62,199.48 161.24,199.47 161.85,199.47 162.46,199.47 163.07,199.47 163.68,199.46 164.29,199.46 164.90,199.46 165.51,199.46 166.12,199.45 166.74,199.45 167.35,199.45 167.96,199.45 168.57,199.45 169.18,199.44 169.79,199.44 170.40,199.44 171.01,199.44 171.62,199.44 172.24,199.44 172.85,199.44 173.46,199.43 174.07,199.43 174.68,199.43 175.29,199.43 175.90,199.43 176.51,199.43 177.12,199.43 177.74,199.43 178.35,199.43 178.96,199.43 179.57,199.42 180.18,199.42 180.79,199.42 181.40,199.42 182.01,199.42 182.62,199.42 183.23,199.42 183.85,199.42 184.46,199.42 185.07,199.42 185.68,199.42 186.29,199.42 186.90,199.42 187.51,199.42 188.12,199.41 188.73,199.41 189.35,199.41 189.96,199.41 190.57,199.41 191.18,199.41 191.79,199.41 192.40,199.41 193.01,199.41 193.62,199.41 194.23,199.41 194.85,199.41 195.46,199.41 196.07,199.41 196.68,199.41 197.29,199.41 197.90,199.41 198.51,199.41 199.12,199.41 199.73,199.41 200.34,199.41 200.96,199.41 201.57,199.41 202.18,199.41 202.79,199.41 203.40,199.41" fill="none" stroke="#0000FF" stroke-width="1.3" stroke-linejoin="round"/>
<path d="M56.74 383.40V488.30M81.19 383.40V488.30M105.63 383.40V488.30M130.07 383.40V488.30M154.51 383.40V488.30M178.96 383.40V488.30M32.30 467.32H203.40M32.30 446.34H203.40M32.30 425.36H203.40M32.30 404.38H203.40" stroke="#E0E0E0" stroke-width="0.7" fill="none"/>
<rect x="32.30" y="383.40" width="171.10" height="104.90" fill="none" stroke="#A6A6A6" stroke-width="0.8"/>
<text x="27.10" y="490.30" text-anchor="end" class="tk">0.0</text>
<text x="27.10" y="469.32" text-anchor="end" class="tk">0.2</text>
<text x="27.10" y="448.34" text-anchor="end" class="tk">0.4</text>
<text x="27.10" y="427.36" text-anchor="end" class="tk">0.6</text>
<text x="27.10" y="406.38" text-anchor="end" class="tk">0.8</text>
<text x="27.10" y="385.40" text-anchor="end" class="tk">1.0</text>
<text x="32.30" y="497.60" text-anchor="middle" class="tk">0.0</text>
<text x="56.74" y="497.60" text-anchor="middle" class="tk">0.2</text>
<text x="81.19" y="497.60" text-anchor="middle" class="tk">0.4</text>
<text x="105.63" y="497.60" text-anchor="middle" class="tk">0.6</text>
<text x="130.07" y="497.60" text-anchor="middle" class="tk">0.8</text>
<text x="154.51" y="497.60" text-anchor="middle" class="tk">1.0</text>
<text x="178.96" y="497.60" text-anchor="middle" class="tk">1.2</text>
<text x="203.40" y="497.60" text-anchor="middle" class="tk">1.4</text>
<text transform="translate(9.30,433.25) rotate(-90)" text-anchor="middle" font-size="6.4" font-weight="bold" fill="#000">P (IDR<tspan font-size="6.4">max</tspan> &gt; IDR<tspan>max-IO</tspan>)</text>
<text x="119.60" y="508.80" text-anchor="middle" font-size="6.45" font-weight="bold" fill="#000">Spectral Acceleration, Sa (g)</text>
<text x="109.60" y="374.10" text-anchor="middle" class="ti">without pounding</text>
<polyline points="32.30,488.30 32.91,488.30 33.52,488.30 34.13,488.30 34.74,488.30 35.36,488.30 35.97,488.30 36.58,488.30 37.19,488.29 37.80,488.28 38.41,488.26 39.02,488.21 39.63,488.13 40.24,488.00 40.85,487.79 41.47,487.51 42.08,487.12 42.69,486.62 43.30,485.98 43.91,485.21 44.52,484.28 45.13,483.21 45.74,481.98 46.35,480.60 46.97,479.07 47.58,477.40 48.19,475.60 48.80,473.68 49.41,471.66 50.02,469.53 50.63,467.33 51.24,465.05 51.85,462.72 52.47,460.35 53.08,457.94 53.69,455.52 54.30,453.08 54.91,450.65 55.52,448.23 56.13,445.83 56.74,443.45 57.35,441.11 57.97,438.82 58.58,436.56 59.19,434.36 59.80,432.21 60.41,430.11 61.02,428.08 61.63,426.10 62.24,424.19 62.85,422.34 63.46,420.56 64.08,418.83 64.69,417.18 65.30,415.58 65.91,414.05 66.52,412.58 67.13,411.17 67.74,409.82 68.35,408.52 68.96,407.29 69.58,406.10 70.19,404.97 70.80,403.90 71.41,402.87 72.02,401.89 72.63,400.95 73.24,400.06 73.85,399.21 74.46,398.41 75.08,397.64 75.69,396.91 76.30,396.22 76.91,395.56 77.52,394.93 78.13,394.34 78.74,393.77 79.35,393.23 79.96,392.72 80.57,392.24 81.19,391.78 81.80,391.35 82.41,390.94 83.02,390.55 83.63,390.17 84.24,389.82 84.85,389.49 85.46,389.17 86.07,388.87 86.69,388.59 87.30,388.32 87.91,388.07 88.52,387.83 89.13,387.60 89.74,387.38 90.35,387.17 90.96,386.98 91.57,386.79 92.19,386.62 92.80,386.45 93.41,386.30 94.02,386.15 94.63,386.01 95.24,385.87 95.85,385.75 96.46,385.63 97.07,385.51 97.68,385.41 98.30,385.31 98.91,385.21 99.52,385.12 100.13,385.03 100.74,384.95 101.35,384.87 101.96,384.80 102.57,384.73 103.18,384.66 103.80,384.60 104.41,384.54 105.02,384.48 105.63,384.43 106.24,384.37 106.85,384.33 107.46,384.28 108.07,384.24 108.68,384.20 109.30,384.16 109.91,384.12 110.52,384.08 111.13,384.05 111.74,384.02 112.35,383.99 112.96,383.96 113.57,383.93 114.18,383.91 114.79,383.88 115.41,383.86 116.02,383.84 116.63,383.82 117.24,383.80 117.85,383.78 118.46,383.76 119.07,383.74 119.68,383.73 120.29,383.71 120.91,383.70 121.52,383.68 122.13,383.67 122.74,383.66 123.35,383.64 123.96,383.63 124.57,383.62 125.18,383.61 125.79,383.60 126.41,383.59 127.02,383.58 127.63,383.57 128.24,383.57 128.85,383.56 129.46,383.55 130.07,383.54 130.68,383.54 131.29,383.53 131.90,383.53 132.52,383.52 133.13,383.51 133.74,383.51 134.35,383.50 134.96,383.50 135.57,383.50 136.18,383.49 136.79,383.49 137.40,383.48 138.02,383.48 138.63,383.48 139.24,383.47 139.85,383.47 140.46,383.47 141.07,383.46 141.68,383.46 142.29,383.46 142.90,383.46 143.52,383.45 144.13,383.45 144.74,383.45 145.35,383.45 145.96,383.44 146.57,383.44 147.18,383.44 147.79,383.44 148.40,383.44 149.01,383.44 149.63,383.43 150.24,383.43 150.85,383.43 151.46,383.43 152.07,383.43 152.68,383.43 153.29,383.43 153.90,383.42 154.51,383.42 155.13,383.42 155.74,383.42 156.35,383.42 156.96,383.42 157.57,383.42 158.18,383.42 158.79,383.42 159.40,383.42 160.01,383.42 160.62,383.42 161.24,383.41 161.85,383.41 162.46,383.41 163.07,383.41 163.68,383.41 164.29,383.41 164.90,383.41 165.51,383.41 166.12,383.41 166.74,383.41 167.35,383.41 167.96,383.41 168.57,383.41 169.18,383.41 169.79,383.41 170.40,383.41 171.01,383.41 171.62,383.41 172.24,383.41 172.85,383.41 173.46,383.41 174.07,383.41 174.68,383.41 175.29,383.41 175.90,383.41 176.51,383.41 177.12,383.41 177.74,383.40 178.35,383.40 178.96,383.40 179.57,383.40 180.18,383.40 180.79,383.40 181.40,383.40 182.01,383.40 182.62,383.40 183.23,383.40 183.85,383.40 184.46,383.40 185.07,383.40 185.68,383.40 186.29,383.40 186.90,383.40 187.51,383.40 188.12,383.40 188.73,383.40 189.35,383.40 189.96,383.40 190.57,383.40 191.18,383.40 191.79,383.40 192.40,383.40 193.01,383.40 193.62,383.40 194.23,383.40 194.85,383.40 195.46,383.40 196.07,383.40 196.68,383.40 197.29,383.40 197.90,383.40 198.51,383.40 199.12,383.40 199.73,383.40 200.34,383.40 200.96,383.40 201.57,383.40 202.18,383.40 202.79,383.40 203.40,383.40" fill="none" stroke="#70AD47" stroke-width="1.3" stroke-dasharray="3.4 2.0" stroke-linejoin="round"/>
<polyline points="32.30,488.30 32.91,488.30 33.52,488.30 34.13,488.30 34.74,488.30 35.36,488.30 35.97,488.30 36.58,488.30 37.19,488.30 37.80,488.30 38.41,488.30 39.02,488.30 39.63,488.30 40.24,488.29 40.85,488.29 41.47,488.27 42.08,488.26 42.69,488.23 43.30,488.19 43.91,488.14 44.52,488.07 45.13,487.97 45.74,487.85 46.35,487.70 46.97,487.52 47.58,487.29 48.19,487.03 48.80,486.73 49.41,486.37 50.02,485.97 50.63,485.51 51.24,485.00 51.85,484.44 52.47,483.82 53.08,483.14 53.69,482.41 54.30,481.62 54.91,480.78 55.52,479.89 56.13,478.94 56.74,477.94 57.35,476.90 57.97,475.80 58.58,474.67 59.19,473.49 59.80,472.28 60.41,471.03 61.02,469.74 61.63,468.43 62.24,467.09 62.85,465.73 63.46,464.34 64.08,462.94 64.69,461.52 65.30,460.09 65.91,458.65 66.52,457.20 67.13,455.74 67.74,454.29 68.35,452.83 68.96,451.37 69.58,449.92 70.19,448.47 70.80,447.03 71.41,445.60 72.02,444.18 72.63,442.77 73.24,441.38 73.85,440.00 74.46,438.63 75.08,437.29 75.69,435.96 76.30,434.64 76.91,433.35 77.52,432.08 78.13,430.83 78.74,429.59 79.35,428.39 79.96,427.20 80.57,426.03 81.19,424.89 81.80,423.77 82.41,422.67 83.02,421.59 83.63,420.54 84.24,419.51 84.85,418.50 85.46,417.52 86.07,416.56 86.69,415.62 87.30,414.70 87.91,413.81 88.52,412.93 89.13,412.08 89.74,411.25 90.35,410.44 90.96,409.65 91.57,408.88 92.19,408.13 92.80,407.40 93.41,406.70 94.02,406.00 94.63,405.33 95.24,404.68 95.85,404.04 96.46,403.43 97.07,402.82 97.68,402.24 98.30,401.67 98.91,401.12 99.52,400.58 100.13,400.06 100.74,399.56 101.35,399.07 101.96,398.59 102.57,398.13 103.18,397.68 103.80,397.24 104.41,396.82 105.02,396.41 105.63,396.01 106.24,395.62 106.85,395.25 107.46,394.88 108.07,394.53 108.68,394.19 109.30,393.86 109.91,393.54 110.52,393.22 111.13,392.92 111.74,392.63 112.35,392.34 112.96,392.07 113.57,391.80 114.18,391.54 114.79,391.29 115.41,391.05 116.02,390.81 116.63,390.58 117.24,390.36 117.85,390.15 118.46,389.94 119.07,389.74 119.68,389.54 120.29,389.35 120.91,389.17 121.52,388.99 122.13,388.82 122.74,388.65 123.35,388.49 123.96,388.34 124.57,388.18 125.18,388.04 125.79,387.90 126.41,387.76 127.02,387.62 127.63,387.49 128.24,387.37 128.85,387.25 129.46,387.13 130.07,387.02 130.68,386.91 131.29,386.80 131.90,386.70 132.52,386.59 133.13,386.50 133.74,386.40 134.35,386.31 134.96,386.22 135.57,386.14 136.18,386.05 136.79,385.97 137.40,385.90 138.02,385.82 138.63,385.75 139.24,385.68 139.85,385.61 140.46,385.54 141.07,385.48 141.68,385.42 142.29,385.35 142.90,385.30 143.52,385.24 144.13,385.18 144.74,385.13 145.35,385.08 145.96,385.03 146.57,384.98 147.18,384.93 147.79,384.89 148.40,384.84 149.01,384.80 149.63,384.76 150.24,384.72 150.85,384.68 151.46,384.64 152.07,384.61 152.68,384.57 153.29,384.54 153.90,384.50 154.51,384.47 155.13,384.44 155.74,384.41 156.35,384.38 156.96,384.35 157.57,384.32 158.18,384.30 158.79,384.27 159.40,384.24 160.01,384.22 160.62,384.20 161.24,384.17 161.85,384.15 162.46,384.13 163.07,384.11 163.68,384.09 164.29,384.07 164.90,384.05 165.51,384.03 166.12,384.01 166.74,383.99 167.35,383.98 167.96,383.96 168.57,383.94 169.18,383.93 169.79,383.91 170.40,383.90 171.01,383.88 171.62,383.87 172.24,383.86 172.85,383.84 173.46,383.83 174.07,383.82 174.68,383.81 175.29,383.80 175.90,383.79 176.51,383.77 177.12,383.76 177.74,383.75 178.35,383.74 178.96,383.73 179.57,383.73 180.18,383.72 180.79,383.71 181.40,383.70 182.01,383.69 182.62,383.68 183.23,383.67 183.85,383.67 184.46,383.66 185.07,383.65 185.68,383.65 186.29,383.64 186.90,383.63 187.51,383.63 188.12,383.62 188.73,383.61 189.35,383.61 189.96,383.60 190.57,383.60 191.18,383.59 191.79,383.59 192.40,383.58 193.01,383.58 193.62,383.57 194.23,383.57 194.85,383.56 195.46,383.56 196.07,383.55 196.68,383.55 197.29,383.55 197.90,383.54 198.51,383.54 199.12,383.53 199.73,383.53 200.34,383.53 200.96,383.52 201.57,383.52 202.18,383.52 202.79,383.51 203.40,383.51" fill="none" stroke="#FFC000" stroke-width="1.2" stroke-dasharray="3.2 1.3 0.9 1.3" stroke-linejoin="round"/>
<polyline points="32.30,488.30 32.91,488.30 33.52,488.30 34.13,488.30 34.74,488.30 35.36,488.30 35.97,488.30 36.58,488.30 37.19,488.30 37.80,488.30 38.41,488.29 39.02,488.29 39.63,488.27 40.24,488.25 40.85,488.21 41.47,488.15 42.08,488.07 42.69,487.95 43.30,487.80 43.91,487.60 44.52,487.35 45.13,487.05 45.74,486.69 46.35,486.25 46.97,485.75 47.58,485.18 48.19,484.54 48.80,483.81 49.41,483.01 50.02,482.14 50.63,481.19 51.24,480.17 51.85,479.08 52.47,477.92 53.08,476.70 53.69,475.42 54.30,474.08 54.91,472.70 55.52,471.26 56.13,469.78 56.74,468.26 57.35,466.71 57.97,465.13 58.58,463.52 59.19,461.90 59.80,460.25 60.41,458.60 61.02,456.94 61.63,455.27 62.24,453.60 62.85,451.93 63.46,450.27 64.08,448.61 64.69,446.97 65.30,445.34 65.91,443.72 66.52,442.13 67.13,440.55 67.74,438.99 68.35,437.45 68.96,435.94 69.58,434.45 70.19,432.99 70.80,431.56 71.41,430.15 72.02,428.77 72.63,427.42 73.24,426.10 73.85,424.81 74.46,423.54 75.08,422.31 75.69,421.11 76.30,419.94 76.91,418.79 77.52,417.68 78.13,416.59 78.74,415.54 79.35,414.51 79.96,413.51 80.57,412.54 81.19,411.59 81.80,410.68 82.41,409.79 83.02,408.92 83.63,408.08 84.24,407.27 84.85,406.48 85.46,405.72 86.07,404.98 86.69,404.26 87.30,403.56 87.91,402.89 88.52,402.23 89.13,401.60 89.74,400.99 90.35,400.40 90.96,399.83 91.57,399.27 92.19,398.73 92.80,398.22 93.41,397.71 94.02,397.23 94.63,396.76 95.24,396.31 95.85,395.87 96.46,395.44 97.07,395.03 97.68,394.64 98.30,394.26 98.91,393.89 99.52,393.53 100.13,393.18 100.74,392.85 101.35,392.53 101.96,392.22 102.57,391.92 103.18,391.63 103.80,391.35 104.41,391.08 105.02,390.82 105.63,390.57 106.24,390.32 106.85,390.09 107.46,389.86 108.07,389.64 108.68,389.43 109.30,389.23 109.91,389.03 110.52,388.84 111.13,388.65 111.74,388.48 112.35,388.31 112.96,388.14 113.57,387.98 114.18,387.83 114.79,387.68 115.41,387.53 116.02,387.39 116.63,387.26 117.24,387.13 117.85,387.01 118.46,386.89 119.07,386.77 119.68,386.66 120.29,386.55 120.91,386.44 121.52,386.34 122.13,386.24 122.74,386.15 123.35,386.06 123.96,385.97 124.57,385.89 125.18,385.80 125.79,385.73 126.41,385.65 127.02,385.57 127.63,385.50 128.24,385.43 128.85,385.37 129.46,385.30 130.07,385.24 130.68,385.18 131.29,385.12 131.90,385.07 132.52,385.01 133.13,384.96 133.74,384.91 134.35,384.86 134.96,384.81 135.57,384.77 136.18,384.72 136.79,384.68 137.40,384.64 138.02,384.60 138.63,384.56 139.24,384.53 139.85,384.49 140.46,384.45 141.07,384.42 141.68,384.39 142.29,384.36 142.90,384.33 143.52,384.30 144.13,384.27 144.74,384.24 145.35,384.22 145.96,384.19 146.57,384.17 147.18,384.14 147.79,384.12 148.40,384.10 149.01,384.07 149.63,384.05 150.24,384.03 150.85,384.01 151.46,383.99 152.07,383.98 152.68,383.96 153.29,383.94 153.90,383.92 154.51,383.91 155.13,383.89 155.74,383.88 156.35,383.86 156.96,383.85 157.57,383.83 158.18,383.82 158.79,383.81 159.40,383.80 160.01,383.78 160.62,383.77 161.24,383.76 161.85,383.75 162.46,383.74 163.07,383.73 163.68,383.72 164.29,383.71 164.90,383.70 165.51,383.69 166.12,383.68 166.74,383.67 167.35,383.67 167.96,383.66 168.57,383.65 169.18,383.64 169.79,383.64 170.40,383.63 171.01,383.62 171.62,383.62 172.24,383.61 172.85,383.60 173.46,383.60 174.07,383.59 174.68,383.59 175.29,383.58 175.90,383.58 176.51,383.57 177.12,383.57 177.74,383.56 178.35,383.56 178.96,383.55 179.57,383.55 180.18,383.54 180.79,383.54 181.40,383.53 182.01,383.53 182.62,383.53 183.23,383.52 183.85,383.52 184.46,383.52 185.07,383.51 185.68,383.51 186.29,383.51 186.90,383.50 187.51,383.50 188.12,383.50 188.73,383.50 189.35,383.49 189.96,383.49 190.57,383.49 191.18,383.49 191.79,383.48 192.40,383.48 193.01,383.48 193.62,383.48 194.23,383.47 194.85,383.47 195.46,383.47 196.07,383.47 196.68,383.47 197.29,383.46 197.90,383.46 198.51,383.46 199.12,383.46 199.73,383.46 200.34,383.46 200.96,383.45 201.57,383.45 202.18,383.45 202.79,383.45 203.40,383.45" fill="none" stroke="#FF0000" stroke-width="1.3" stroke-linejoin="round"/>
<polyline points="32.30,488.30 32.91,488.30 33.52,488.30 34.13,488.30 34.74,488.30 35.36,488.30 35.97,488.30 36.58,488.30 37.19,488.30 37.80,488.30 38.41,488.29 39.02,488.28 39.63,488.27 40.24,488.24 40.85,488.19 41.47,488.11 42.08,488.00 42.69,487.84 43.30,487.64 43.91,487.37 44.52,487.04 45.13,486.63 45.74,486.13 46.35,485.55 46.97,484.87 47.58,484.10 48.19,483.23 48.80,482.27 49.41,481.21 50.02,480.05 50.63,478.80 51.24,477.47 51.85,476.05 52.47,474.56 53.08,472.99 53.69,471.36 54.30,469.67 54.91,467.92 55.52,466.14 56.13,464.31 56.74,462.45 57.35,460.56 57.97,458.66 58.58,456.74 59.19,454.81 59.80,452.88 60.41,450.95 61.02,449.03 61.63,447.12 62.24,445.23 62.85,443.35 63.46,441.50 64.08,439.67 64.69,437.87 65.30,436.10 65.91,434.36 66.52,432.65 67.13,430.98 67.74,429.35 68.35,427.75 68.96,426.19 69.58,424.68 70.19,423.20 70.80,421.76 71.41,420.36 72.02,419.00 72.63,417.68 73.24,416.40 73.85,415.16 74.46,413.96 75.08,412.80 75.69,411.68 76.30,410.59 76.91,409.54 77.52,408.52 78.13,407.54 78.74,406.60 79.35,405.68 79.96,404.81 80.57,403.96 81.19,403.14 81.80,402.35 82.41,401.60 83.02,400.87 83.63,400.17 84.24,399.49 84.85,398.84 85.46,398.22 86.07,397.62 86.69,397.04 87.30,396.49 87.91,395.96 88.52,395.45 89.13,394.96 89.74,394.48 90.35,394.03 90.96,393.60 91.57,393.18 92.19,392.78 92.80,392.40 93.41,392.03 94.02,391.67 94.63,391.34 95.24,391.01 95.85,390.70 96.46,390.40 97.07,390.11 97.68,389.84 98.30,389.57 98.91,389.32 99.52,389.08 100.13,388.85 100.74,388.62 101.35,388.41 101.96,388.20 102.57,388.01 103.18,387.82 103.80,387.64 104.41,387.47 105.02,387.30 105.63,387.14 106.24,386.99 106.85,386.84 107.46,386.70 108.07,386.57 108.68,386.44 109.30,386.32 109.91,386.20 110.52,386.09 111.13,385.98 111.74,385.88 112.35,385.78 112.96,385.68 113.57,385.59 114.18,385.50 114.79,385.42 115.41,385.34 116.02,385.26 116.63,385.18 117.24,385.11 117.85,385.05 118.46,384.98 119.07,384.92 119.68,384.86 120.29,384.80 120.91,384.74 121.52,384.69 122.13,384.64 122.74,384.59 123.35,384.54 123.96,384.50 124.57,384.46 125.18,384.41 125.79,384.38 126.41,384.34 127.02,384.30 127.63,384.27 128.24,384.23 128.85,384.20 129.46,384.17 130.07,384.14 130.68,384.11 131.29,384.08 131.90,384.06 132.52,384.03 133.13,384.01 133.74,383.98 134.35,383.96 134.96,383.94 135.57,383.92 136.18,383.90 136.79,383.88 137.40,383.86 138.02,383.85 138.63,383.83 139.24,383.81 139.85,383.80 140.46,383.78 141.07,383.77 141.68,383.75 142.29,383.74 142.90,383.73 143.52,383.72 144.13,383.70 144.74,383.69 145.35,383.68 145.96,383.67 146.57,383.66 147.18,383.65 147.79,383.64 148.40,383.63 149.01,383.62 149.63,383.62 150.24,383.61 150.85,383.60 151.46,383.59 152.07,383.59 152.68,383.58 153.29,383.57 153.90,383.57 154.51,383.56 155.13,383.56 155.74,383.55 156.35,383.54 156.96,383.54 157.57,383.53 158.18,383.53 158.79,383.52 159.40,383.52 160.01,383.52 160.62,383.51 161.24,383.51 161.85,383.50 162.46,383.50 163.07,383.50 163.68,383.49 164.29,383.49 164.90,383.49 165.51,383.48 166.12,383.48 166.74,383.48 167.35,383.48 167.96,383.47 168.57,383.47 169.18,383.47 169.79,383.47 170.40,383.46 171.01,383.46 171.62,383.46 172.24,383.46 172.85,383.46 173.46,383.45 174.07,383.45 174.68,383.45 175.29,383.45 175.90,383.45 176.51,383.44 177.12,383.44 177.74,383.44 178.35,383.44 178.96,383.44 179.57,383.44 180.18,383.44 180.79,383.44 181.40,383.43 182.01,383.43 182.62,383.43 183.23,383.43 183.85,383.43 184.46,383.43 185.07,383.43 185.68,383.43 186.29,383.43 186.90,383.43 187.51,383.42 188.12,383.42 188.73,383.42 189.35,383.42 189.96,383.42 190.57,383.42 191.18,383.42 191.79,383.42 192.40,383.42 193.01,383.42 193.62,383.42 194.23,383.42 194.85,383.42 195.46,383.42 196.07,383.42 196.68,383.41 197.29,383.41 197.90,383.41 198.51,383.41 199.12,383.41 199.73,383.41 200.34,383.41 200.96,383.41 201.57,383.41 202.18,383.41 202.79,383.41 203.40,383.41" fill="none" stroke="#0000FF" stroke-width="1.3" stroke-linejoin="round"/>
<path d="M273.77 16.70V121.00M298.24 16.70V121.00M322.71 16.70V121.00M347.19 16.70V121.00M371.66 16.70V121.00M396.13 16.70V121.00M249.30 100.14H420.60M249.30 79.28H420.60M249.30 58.42H420.60M249.30 37.56H420.60" stroke="#E0E0E0" stroke-width="0.7" fill="none"/>
<rect x="249.30" y="16.70" width="171.30" height="104.30" fill="none" stroke="#A6A6A6" stroke-width="0.8"/>
<text x="244.10" y="123.00" text-anchor="end" class="tk">0.0</text>
<text x="244.10" y="102.14" text-anchor="end" class="tk">0.2</text>
<text x="244.10" y="81.28" text-anchor="end" class="tk">0.4</text>
<text x="244.10" y="60.42" text-anchor="end" class="tk">0.6</text>
<text x="244.10" y="39.56" text-anchor="end" class="tk">0.8</text>
<text x="244.10" y="18.70" text-anchor="end" class="tk">1.0</text>
<text x="249.30" y="130.30" text-anchor="middle" class="tk">0.0</text>
<text x="273.77" y="130.30" text-anchor="middle" class="tk">0.2</text>
<text x="298.24" y="130.30" text-anchor="middle" class="tk">0.4</text>
<text x="322.71" y="130.30" text-anchor="middle" class="tk">0.6</text>
<text x="347.19" y="130.30" text-anchor="middle" class="tk">0.8</text>
<text x="371.66" y="130.30" text-anchor="middle" class="tk">1.0</text>
<text x="396.13" y="130.30" text-anchor="middle" class="tk">1.2</text>
<text x="420.60" y="130.30" text-anchor="middle" class="tk">1.4</text>
<text transform="translate(226.30,66.25) rotate(-90)" text-anchor="middle" font-size="6.4" font-weight="bold" fill="#000">P (IDR<tspan font-size="6.4">max</tspan> &gt; IDR<tspan>max-IO</tspan>)</text>
<text x="338.90" y="140.70" text-anchor="middle" font-size="6.45" font-weight="bold" fill="#000">Spectral Acceleration, Sa (g)</text>
<text x="332.90" y="8.20" text-anchor="middle" class="ti">d<tspan font-size="5.6" dy="0.9">g</tspan><tspan dy="-0.9"> = 0.0 cm</tspan></text>
<polyline points="249.30,121.00 249.91,121.00 250.52,121.00 251.14,121.00 251.75,121.00 252.36,120.98 252.97,120.92 253.58,120.79 254.19,120.56 254.81,120.18 255.42,119.64 256.03,118.89 256.64,117.94 257.25,116.77 257.87,115.38 258.48,113.78 259.09,111.99 259.70,110.03 260.31,107.91 260.92,105.65 261.54,103.28 262.15,100.83 262.76,98.30 263.37,95.72 263.98,93.11 264.59,90.49 265.21,87.86 265.82,85.25 266.43,82.66 267.04,80.11 267.65,77.60 268.27,75.15 268.88,72.74 269.49,70.40 270.10,68.13 270.71,65.92 271.32,63.79 271.94,61.72 272.55,59.73 273.16,57.80 273.77,55.96 274.38,54.18 275.00,52.47 275.61,50.83 276.22,49.26 276.83,47.76 277.44,46.32 278.05,44.94 278.67,43.63 279.28,42.37 279.89,41.17 280.50,40.02 281.11,38.93 281.72,37.89 282.34,36.89 282.95,35.94 283.56,35.04 284.17,34.18 284.78,33.36 285.40,32.58 286.01,31.83 286.62,31.12 287.23,30.45 287.84,29.81 288.45,29.19 289.07,28.61 289.68,28.06 290.29,27.53 290.90,27.03 291.51,26.55 292.12,26.10 292.74,25.66 293.35,25.25 293.96,24.86 294.57,24.49 295.18,24.13 295.80,23.79 296.41,23.47 297.02,23.16 297.63,22.87 298.24,22.59 298.85,22.33 299.47,22.08 300.08,21.84 300.69,21.61 301.30,21.39 301.91,21.18 302.53,20.98 303.14,20.79 303.75,20.61 304.36,20.44 304.97,20.28 305.58,20.12 306.20,19.98 306.81,19.83 307.42,19.70 308.03,19.57 308.64,19.45 309.25,19.33 309.87,19.22 310.48,19.11 311.09,19.01 311.70,18.91 312.31,18.82 312.93,18.73 313.54,18.64 314.15,18.56 314.76,18.48 315.37,18.41 315.98,18.34 316.60,18.27 317.21,18.21 317.82,18.15 318.43,18.09 319.04,18.03 319.66,17.98 320.27,17.92 320.88,17.88 321.49,17.83 322.10,17.78 322.71,17.74 323.33,17.70 323.94,17.66 324.55,17.62 325.16,17.58 325.77,17.55 326.38,17.52 327.00,17.48 327.61,17.45 328.22,17.42 328.83,17.40 329.44,17.37 330.06,17.34 330.67,17.32 331.28,17.30 331.89,17.27 332.50,17.25 333.11,17.23 333.73,17.21 334.34,17.19 334.95,17.17 335.56,17.15 336.17,17.14 336.79,17.12 337.40,17.11 338.01,17.09 338.62,17.08 339.23,17.06 339.84,17.05 340.46,17.04 341.07,17.02 341.68,17.01 342.29,17.00 342.90,16.99 343.52,16.98 344.13,16.97 344.74,16.96 345.35,16.95 345.96,16.94 346.57,16.93 347.19,16.92 347.80,16.92 348.41,16.91 349.02,16.90 349.63,16.89 350.24,16.89 350.86,16.88 351.47,16.88 352.08,16.87 352.69,16.86 353.30,16.86 353.92,16.85 354.53,16.85 355.14,16.84 355.75,16.84 356.36,16.83 356.97,16.83 357.59,16.82 358.20,16.82 358.81,16.82 359.42,16.81 360.03,16.81 360.65,16.80 361.26,16.80 361.87,16.80 362.48,16.79 363.09,16.79 363.70,16.79 364.32,16.79 364.93,16.78 365.54,16.78 366.15,16.78 366.76,16.77 367.37,16.77 367.99,16.77 368.60,16.77 369.21,16.77 369.82,16.76 370.43,16.76 371.05,16.76 371.66,16.76 372.27,16.76 372.88,16.75 373.49,16.75 374.10,16.75 374.72,16.75 375.33,16.75 375.94,16.75 376.55,16.74 377.16,16.74 377.78,16.74 378.39,16.74 379.00,16.74 379.61,16.74 380.22,16.74 380.83,16.74 381.45,16.73 382.06,16.73 382.67,16.73 383.28,16.73 383.89,16.73 384.50,16.73 385.12,16.73 385.73,16.73 386.34,16.73 386.95,16.73 387.56,16.73 388.18,16.72 388.79,16.72 389.40,16.72 390.01,16.72 390.62,16.72 391.23,16.72 391.85,16.72 392.46,16.72 393.07,16.72 393.68,16.72 394.29,16.72 394.91,16.72 395.52,16.72 396.13,16.72 396.74,16.72 397.35,16.72 397.96,16.72 398.58,16.71 399.19,16.71 399.80,16.71 400.41,16.71 401.02,16.71 401.63,16.71 402.25,16.71 402.86,16.71 403.47,16.71 404.08,16.71 404.69,16.71 405.31,16.71 405.92,16.71 406.53,16.71 407.14,16.71 407.75,16.71 408.36,16.71 408.98,16.71 409.59,16.71 410.20,16.71 410.81,16.71 411.42,16.71 412.04,16.71 412.65,16.71 413.26,16.71 413.87,16.71 414.48,16.71 415.09,16.71 415.71,16.71 416.32,16.71 416.93,16.71 417.54,16.71 418.15,16.71 418.76,16.71 419.38,16.71 419.99,16.71 420.60,16.71" fill="none" stroke="#70AD47" stroke-width="1.3" stroke-dasharray="3.4 2.0" stroke-linejoin="round"/>
<polyline points="249.30,121.00 249.91,121.00 250.52,121.00 251.14,121.00 251.75,121.00 252.36,121.00 252.97,121.00 253.58,121.00 254.19,121.00 254.81,121.00 255.42,121.00 256.03,121.00 256.64,121.00 257.25,120.99 257.87,120.99 258.48,120.98 259.09,120.97 259.70,120.95 260.31,120.93 260.92,120.90 261.54,120.86 262.15,120.81 262.76,120.75 263.37,120.67 263.98,120.57 264.59,120.46 265.21,120.32 265.82,120.17 266.43,119.99 267.04,119.79 267.65,119.56 268.27,119.30 268.88,119.02 269.49,118.70 270.10,118.36 270.71,117.99 271.32,117.59 271.94,117.15 272.55,116.69 273.16,116.19 273.77,115.67 274.38,115.11 275.00,114.52 275.61,113.91 276.22,113.27 276.83,112.60 277.44,111.90 278.05,111.18 278.67,110.43 279.28,109.65 279.89,108.86 280.50,108.04 281.11,107.20 281.72,106.35 282.34,105.47 282.95,104.58 283.56,103.67 284.17,102.74 284.78,101.80 285.40,100.85 286.01,99.89 286.62,98.92 287.23,97.93 287.84,96.94 288.45,95.94 289.07,94.94 289.68,93.93 290.29,92.92 290.90,91.90 291.51,90.88 292.12,89.86 292.74,88.84 293.35,87.82 293.96,86.80 294.57,85.78 295.18,84.77 295.80,83.75 296.41,82.74 297.02,81.74 297.63,80.74 298.24,79.74 298.85,78.75 299.47,77.77 300.08,76.80 300.69,75.83 301.30,74.87 301.91,73.91 302.53,72.97 303.14,72.03 303.75,71.11 304.36,70.19 304.97,69.28 305.58,68.38 306.20,67.50 306.81,66.62 307.42,65.75 308.03,64.89 308.64,64.05 309.25,63.21 309.87,62.38 310.48,61.57 311.09,60.77 311.70,59.97 312.31,59.19 312.93,58.42 313.54,57.66 314.15,56.91 314.76,56.17 315.37,55.45 315.98,54.73 316.60,54.03 317.21,53.33 317.82,52.65 318.43,51.98 319.04,51.32 319.66,50.67 320.27,50.03 320.88,49.40 321.49,48.78 322.10,48.17 322.71,47.57 323.33,46.98 323.94,46.40 324.55,45.84 325.16,45.28 325.77,44.73 326.38,44.19 327.00,43.66 327.61,43.14 328.22,42.63 328.83,42.13 329.44,41.64 330.06,41.15 330.67,40.68 331.28,40.21 331.89,39.76 332.50,39.31 333.11,38.87 333.73,38.43 334.34,38.01 334.95,37.59 335.56,37.19 336.17,36.78 336.79,36.39 337.40,36.01 338.01,35.63 338.62,35.26 339.23,34.89 339.84,34.54 340.46,34.19 341.07,33.84 341.68,33.51 342.29,33.18 342.90,32.85 343.52,32.53 344.13,32.22 344.74,31.92 345.35,31.62 345.96,31.32 346.57,31.04 347.19,30.75 347.80,30.48 348.41,30.21 349.02,29.94 349.63,29.68 350.24,29.43 350.86,29.18 351.47,28.93 352.08,28.69 352.69,28.45 353.30,28.22 353.92,28.00 354.53,27.78 355.14,27.56 355.75,27.35 356.36,27.14 356.97,26.93 357.59,26.73 358.20,26.53 358.81,26.34 359.42,26.15 360.03,25.97 360.65,25.79 361.26,25.61 361.87,25.44 362.48,25.27 363.09,25.10 363.70,24.93 364.32,24.77 364.93,24.62 365.54,24.46 366.15,24.31 366.76,24.16 367.37,24.02 367.99,23.88 368.60,23.74 369.21,23.60 369.82,23.47 370.43,23.34 371.05,23.21 371.66,23.08 372.27,22.96 372.88,22.84 373.49,22.72 374.10,22.60 374.72,22.49 375.33,22.38 375.94,22.27 376.55,22.16 377.16,22.06 377.78,21.95 378.39,21.85 379.00,21.75 379.61,21.66 380.22,21.56 380.83,21.47 381.45,21.38 382.06,21.29 382.67,21.20 383.28,21.12 383.89,21.03 384.50,20.95 385.12,20.87 385.73,20.79 386.34,20.71 386.95,20.64 387.56,20.56 388.18,20.49 388.79,20.42 389.40,20.35 390.01,20.28 390.62,20.21 391.23,20.14 391.85,20.08 392.46,20.02 393.07,19.95 393.68,19.89 394.29,19.83 394.91,19.77 395.52,19.72 396.13,19.66 396.74,19.61 397.35,19.55 397.96,19.50 398.58,19.45 399.19,19.40 399.80,19.35 400.41,19.30 401.02,19.25 401.63,19.20 402.25,19.15 402.86,19.11 403.47,19.06 404.08,19.02 404.69,18.98 405.31,18.94 405.92,18.90 406.53,18.86 407.14,18.82 407.75,18.78 408.36,18.74 408.98,18.70 409.59,18.67 410.20,18.63 410.81,18.59 411.42,18.56 412.04,18.53 412.65,18.49 413.26,18.46 413.87,18.43 414.48,18.40 415.09,18.37 415.71,18.34 416.32,18.31 416.93,18.28 417.54,18.25 418.15,18.22 418.76,18.19 419.38,18.17 419.99,18.14 420.60,18.12" fill="none" stroke="#FFC000" stroke-width="1.2" stroke-dasharray="3.2 1.3 0.9 1.3" stroke-linejoin="round"/>
<polyline points="249.30,121.00 249.91,121.00 250.52,121.00 251.14,121.00 251.75,121.00 252.36,121.00 252.97,121.00 253.58,121.00 254.19,121.00 254.81,121.00 255.42,121.00 256.03,120.99 256.64,120.98 257.25,120.97 257.87,120.94 258.48,120.91 259.09,120.86 259.70,120.80 260.31,120.72 260.92,120.61 261.54,120.48 262.15,120.32 262.76,120.12 263.37,119.90 263.98,119.63 264.59,119.33 265.21,118.99 265.82,118.60 266.43,118.18 267.04,117.70 267.65,117.19 268.27,116.63 268.88,116.03 269.49,115.38 270.10,114.69 270.71,113.96 271.32,113.19 271.94,112.37 272.55,111.53 273.16,110.64 273.77,109.72 274.38,108.77 275.00,107.79 275.61,106.78 276.22,105.74 276.83,104.68 277.44,103.59 278.05,102.49 278.67,101.36 279.28,100.22 279.89,99.07 280.50,97.90 281.11,96.72 281.72,95.53 282.34,94.33 282.95,93.13 283.56,91.92 284.17,90.71 284.78,89.50 285.40,88.29 286.01,87.08 286.62,85.87 287.23,84.67 287.84,83.47 288.45,82.27 289.07,81.09 289.68,79.91 290.29,78.74 290.90,77.58 291.51,76.43 292.12,75.29 292.74,74.16 293.35,73.04 293.96,71.94 294.57,70.84 295.18,69.77 295.80,68.70 296.41,67.65 297.02,66.61 297.63,65.59 298.24,64.59 298.85,63.59 299.47,62.62 300.08,61.66 300.69,60.71 301.30,59.78 301.91,58.86 302.53,57.96 303.14,57.08 303.75,56.21 304.36,55.36 304.97,54.52 305.58,53.69 306.20,52.89 306.81,52.09 307.42,51.32 308.03,50.55 308.64,49.81 309.25,49.07 309.87,48.36 310.48,47.65 311.09,46.96 311.70,46.28 312.31,45.62 312.93,44.97 313.54,44.34 314.15,43.72 314.76,43.11 315.37,42.51 315.98,41.93 316.60,41.36 317.21,40.80 317.82,40.25 318.43,39.72 319.04,39.19 319.66,38.68 320.27,38.18 320.88,37.69 321.49,37.21 322.10,36.75 322.71,36.29 323.33,35.84 323.94,35.40 324.55,34.98 325.16,34.56 325.77,34.15 326.38,33.75 327.00,33.36 327.61,32.98 328.22,32.61 328.83,32.24 329.44,31.89 330.06,31.54 330.67,31.20 331.28,30.87 331.89,30.54 332.50,30.23 333.11,29.92 333.73,29.62 334.34,29.32 334.95,29.03 335.56,28.75 336.17,28.48 336.79,28.21 337.40,27.94 338.01,27.69 338.62,27.44 339.23,27.19 339.84,26.95 340.46,26.72 341.07,26.49 341.68,26.27 342.29,26.05 342.90,25.84 343.52,25.63 344.13,25.43 344.74,25.23 345.35,25.04 345.96,24.85 346.57,24.67 347.19,24.49 347.80,24.31 348.41,24.14 349.02,23.97 349.63,23.81 350.24,23.65 350.86,23.49 351.47,23.34 352.08,23.19 352.69,23.05 353.30,22.91 353.92,22.77 354.53,22.63 355.14,22.50 355.75,22.37 356.36,22.24 356.97,22.12 357.59,22.00 358.20,21.88 358.81,21.77 359.42,21.66 360.03,21.55 360.65,21.44 361.26,21.34 361.87,21.23 362.48,21.13 363.09,21.04 363.70,20.94 364.32,20.85 364.93,20.76 365.54,20.67 366.15,20.58 366.76,20.50 367.37,20.41 367.99,20.33 368.60,20.25 369.21,20.18 369.82,20.10 370.43,20.03 371.05,19.96 371.66,19.89 372.27,19.82 372.88,19.75 373.49,19.68 374.10,19.62 374.72,19.56 375.33,19.50 375.94,19.44 376.55,19.38 377.16,19.32 377.78,19.26 378.39,19.21 379.00,19.16 379.61,19.10 380.22,19.05 380.83,19.00 381.45,18.95 382.06,18.91 382.67,18.86 383.28,18.81 383.89,18.77 384.50,18.73 385.12,18.68 385.73,18.64 386.34,18.60 386.95,18.56 387.56,18.52 388.18,18.48 388.79,18.45 389.40,18.41 390.01,18.37 390.62,18.34 391.23,18.31 391.85,18.27 392.46,18.24 393.07,18.21 393.68,18.18 394.29,18.15 394.91,18.12 395.52,18.09 396.13,18.06 396.74,18.03 397.35,18.00 397.96,17.98 398.58,17.95 399.19,17.93 399.80,17.90 400.41,17.88 401.02,17.85 401.63,17.83 402.25,17.81 402.86,17.78 403.47,17.76 404.08,17.74 404.69,17.72 405.31,17.70 405.92,17.68 406.53,17.66 407.14,17.64 407.75,17.62 408.36,17.60 408.98,17.59 409.59,17.57 410.20,17.55 410.81,17.53 411.42,17.52 412.04,17.50 412.65,17.48 413.26,17.47 413.87,17.45 414.48,17.44 415.09,17.42 415.71,17.41 416.32,17.40 416.93,17.38 417.54,17.37 418.15,17.36 418.76,17.34 419.38,17.33 419.99,17.32 420.60,17.31" fill="none" stroke="#1a1a1a" stroke-width="1.05" stroke-dasharray="0 1.65" stroke-linecap="round" stroke-linejoin="round"/>
<polyline points="249.30,121.00 249.91,121.00 250.52,121.00 251.14,121.00 251.75,121.00 252.36,121.00 252.97,121.00 253.58,121.00 254.19,121.00 254.81,120.99 255.42,120.99 256.03,120.98 256.64,120.96 257.25,120.93 257.87,120.88 258.48,120.81 259.09,120.72 259.70,120.60 260.31,120.45 260.92,120.26 261.54,120.03 262.15,119.76 262.76,119.44 263.37,119.06 263.98,118.64 264.59,118.16 265.21,117.62 265.82,117.03 266.43,116.39 267.04,115.68 267.65,114.93 268.27,114.12 268.88,113.26 269.49,112.35 270.10,111.39 270.71,110.39 271.32,109.34 271.94,108.26 272.55,107.14 273.16,105.98 273.77,104.79 274.38,103.57 275.00,102.33 275.61,101.06 276.22,99.77 276.83,98.46 277.44,97.14 278.05,95.81 278.67,94.47 279.28,93.11 279.89,91.76 280.50,90.40 281.11,89.03 281.72,87.67 282.34,86.31 282.95,84.96 283.56,83.61 284.17,82.27 284.78,80.93 285.40,79.61 286.01,78.30 286.62,77.00 287.23,75.71 287.84,74.43 288.45,73.18 289.07,71.93 289.68,70.71 290.29,69.50 290.90,68.30 291.51,67.13 292.12,65.97 292.74,64.83 293.35,63.72 293.96,62.62 294.57,61.53 295.18,60.47 295.80,59.43 296.41,58.41 297.02,57.41 297.63,56.42 298.24,55.46 298.85,54.52 299.47,53.59 300.08,52.69 300.69,51.80 301.30,50.93 301.91,50.09 302.53,49.26 303.14,48.44 303.75,47.65 304.36,46.87 304.97,46.12 305.58,45.38 306.20,44.65 306.81,43.95 307.42,43.26 308.03,42.58 308.64,41.93 309.25,41.29 309.87,40.66 310.48,40.05 311.09,39.45 311.70,38.87 312.31,38.30 312.93,37.75 313.54,37.21 314.15,36.69 314.76,36.17 315.37,35.67 315.98,35.19 316.60,34.71 317.21,34.25 317.82,33.80 318.43,33.36 319.04,32.93 319.66,32.51 320.27,32.10 320.88,31.71 321.49,31.32 322.10,30.95 322.71,30.58 323.33,30.22 323.94,29.88 324.55,29.54 325.16,29.21 325.77,28.89 326.38,28.57 327.00,28.27 327.61,27.97 328.22,27.68 328.83,27.40 329.44,27.13 330.06,26.86 330.67,26.60 331.28,26.35 331.89,26.10 332.50,25.86 333.11,25.63 333.73,25.40 334.34,25.18 334.95,24.97 335.56,24.76 336.17,24.55 336.79,24.35 337.40,24.16 338.01,23.97 338.62,23.79 339.23,23.61 339.84,23.43 340.46,23.26 341.07,23.10 341.68,22.94 342.29,22.78 342.90,22.63 343.52,22.48 344.13,22.33 344.74,22.19 345.35,22.06 345.96,21.92 346.57,21.79 347.19,21.67 347.80,21.54 348.41,21.42 349.02,21.30 349.63,21.19 350.24,21.08 350.86,20.97 351.47,20.87 352.08,20.76 352.69,20.66 353.30,20.57 353.92,20.47 354.53,20.38 355.14,20.29 355.75,20.20 356.36,20.12 356.97,20.03 357.59,19.95 358.20,19.87 358.81,19.80 359.42,19.72 360.03,19.65 360.65,19.58 361.26,19.51 361.87,19.44 362.48,19.37 363.09,19.31 363.70,19.25 364.32,19.18 364.93,19.13 365.54,19.07 366.15,19.01 366.76,18.96 367.37,18.90 367.99,18.85 368.60,18.80 369.21,18.75 369.82,18.70 370.43,18.65 371.05,18.61 371.66,18.56 372.27,18.52 372.88,18.48 373.49,18.43 374.10,18.39 374.72,18.35 375.33,18.32 375.94,18.28 376.55,18.24 377.16,18.21 377.78,18.17 378.39,18.14 379.00,18.10 379.61,18.07 380.22,18.04 380.83,18.01 381.45,17.98 382.06,17.95 382.67,17.92 383.28,17.89 383.89,17.86 384.50,17.84 385.12,17.81 385.73,17.79 386.34,17.76 386.95,17.74 387.56,17.71 388.18,17.69 388.79,17.67 389.40,17.65 390.01,17.63 390.62,17.61 391.23,17.59 391.85,17.57 392.46,17.55 393.07,17.53 393.68,17.51 394.29,17.49 394.91,17.47 395.52,17.46 396.13,17.44 396.74,17.42 397.35,17.41 397.96,17.39 398.58,17.38 399.19,17.36 399.80,17.35 400.41,17.33 401.02,17.32 401.63,17.30 402.25,17.29 402.86,17.28 403.47,17.27 404.08,17.25 404.69,17.24 405.31,17.23 405.92,17.22 406.53,17.21 407.14,17.20 407.75,17.19 408.36,17.18 408.98,17.17 409.59,17.16 410.20,17.15 410.81,17.14 411.42,17.13 412.04,17.12 412.65,17.11 413.26,17.10 413.87,17.09 414.48,17.08 415.09,17.07 415.71,17.07 416.32,17.06 416.93,17.05 417.54,17.04 418.15,17.04 418.76,17.03 419.38,17.02 419.99,17.02 420.60,17.01" fill="none" stroke="#1a1a1a" stroke-width="1.05" stroke-dasharray="0 1.65" stroke-linecap="round" stroke-linejoin="round"/>
<polyline points="249.30,121.00 249.91,121.00 250.52,121.00 251.14,121.00 251.75,121.00 252.36,121.00 252.97,120.99 253.58,120.97 254.19,120.94 254.81,120.86 255.42,120.74 256.03,120.55 256.64,120.28 257.25,119.90 257.87,119.42 258.48,118.82 259.09,118.09 259.70,117.24 260.31,116.25 260.92,115.13 261.54,113.88 262.15,112.52 262.76,111.05 263.37,109.47 263.98,107.80 264.59,106.04 265.21,104.21 265.82,102.32 266.43,100.37 267.04,98.38 267.65,96.36 268.27,94.31 268.88,92.25 269.49,90.18 270.10,88.10 270.71,86.03 271.32,83.98 271.94,81.93 272.55,79.91 273.16,77.92 273.77,75.96 274.38,74.03 275.00,72.13 275.61,70.27 276.22,68.45 276.83,66.68 277.44,64.94 278.05,63.25 278.67,61.61 279.28,60.01 279.89,58.45 280.50,56.94 281.11,55.48 281.72,54.06 282.34,52.69 282.95,51.35 283.56,50.07 284.17,48.82 284.78,47.62 285.40,46.46 286.01,45.34 286.62,44.25 287.23,43.21 287.84,42.20 288.45,41.23 289.07,40.30 289.68,39.40 290.29,38.53 290.90,37.70 291.51,36.89 292.12,36.12 292.74,35.37 293.35,34.66 293.96,33.97 294.57,33.31 295.18,32.67 295.80,32.06 296.41,31.47 297.02,30.90 297.63,30.36 298.24,29.83 298.85,29.33 299.47,28.85 300.08,28.38 300.69,27.94 301.30,27.51 301.91,27.10 302.53,26.70 303.14,26.32 303.75,25.96 304.36,25.61 304.97,25.27 305.58,24.94 306.20,24.63 306.81,24.33 307.42,24.05 308.03,23.77 308.64,23.51 309.25,23.25 309.87,23.01 310.48,22.77 311.09,22.54 311.70,22.33 312.31,22.12 312.93,21.92 313.54,21.73 314.15,21.54 314.76,21.36 315.37,21.19 315.98,21.03 316.60,20.87 317.21,20.72 317.82,20.57 318.43,20.43 319.04,20.29 319.66,20.16 320.27,20.04 320.88,19.92 321.49,19.80 322.10,19.69 322.71,19.58 323.33,19.48 323.94,19.38 324.55,19.29 325.16,19.19 325.77,19.11 326.38,19.02 327.00,18.94 327.61,18.86 328.22,18.78 328.83,18.71 329.44,18.64 330.06,18.57 330.67,18.51 331.28,18.45 331.89,18.39 332.50,18.33 333.11,18.27 333.73,18.22 334.34,18.17 334.95,18.12 335.56,18.07 336.17,18.02 336.79,17.98 337.40,17.93 338.01,17.89 338.62,17.85 339.23,17.81 339.84,17.77 340.46,17.74 341.07,17.70 341.68,17.67 342.29,17.64 342.90,17.61 343.52,17.58 344.13,17.55 344.74,17.52 345.35,17.49 345.96,17.47 346.57,17.44 347.19,17.42 347.80,17.39 348.41,17.37 349.02,17.35 349.63,17.33 350.24,17.31 350.86,17.29 351.47,17.27 352.08,17.25 352.69,17.23 353.30,17.22 353.92,17.20 354.53,17.18 355.14,17.17 355.75,17.15 356.36,17.14 356.97,17.13 357.59,17.11 358.20,17.10 358.81,17.09 359.42,17.08 360.03,17.06 360.65,17.05 361.26,17.04 361.87,17.03 362.48,17.02 363.09,17.01 363.70,17.00 364.32,16.99 364.93,16.98 365.54,16.97 366.15,16.97 366.76,16.96 367.37,16.95 367.99,16.94 368.60,16.94 369.21,16.93 369.82,16.92 370.43,16.92 371.05,16.91 371.66,16.90 372.27,16.90 372.88,16.89 373.49,16.88 374.10,16.88 374.72,16.87 375.33,16.87 375.94,16.86 376.55,16.86 377.16,16.85 377.78,16.85 378.39,16.85 379.00,16.84 379.61,16.84 380.22,16.83 380.83,16.83 381.45,16.83 382.06,16.82 382.67,16.82 383.28,16.82 383.89,16.81 384.50,16.81 385.12,16.81 385.73,16.80 386.34,16.80 386.95,16.80 387.56,16.79 388.18,16.79 388.79,16.79 389.40,16.79 390.01,16.78 390.62,16.78 391.23,16.78 391.85,16.78 392.46,16.78 393.07,16.77 393.68,16.77 394.29,16.77 394.91,16.77 395.52,16.77 396.13,16.76 396.74,16.76 397.35,16.76 397.96,16.76 398.58,16.76 399.19,16.76 399.80,16.75 400.41,16.75 401.02,16.75 401.63,16.75 402.25,16.75 402.86,16.75 403.47,16.75 404.08,16.74 404.69,16.74 405.31,16.74 405.92,16.74 406.53,16.74 407.14,16.74 407.75,16.74 408.36,16.74 408.98,16.74 409.59,16.74 410.20,16.73 410.81,16.73 411.42,16.73 412.04,16.73 412.65,16.73 413.26,16.73 413.87,16.73 414.48,16.73 415.09,16.73 415.71,16.73 416.32,16.73 416.93,16.73 417.54,16.72 418.15,16.72 418.76,16.72 419.38,16.72 419.99,16.72 420.60,16.72" fill="none" stroke="#FF0000" stroke-width="1.3" stroke-linejoin="round"/>
<polyline points="249.30,121.00 249.91,121.00 250.52,121.00 251.14,121.00 251.75,121.00 252.36,121.00 252.97,121.00 253.58,121.00 254.19,120.99 254.81,120.98 255.42,120.95 256.03,120.90 256.64,120.83 257.25,120.72 257.87,120.57 258.48,120.37 259.09,120.11 259.70,119.78 260.31,119.39 260.92,118.91 261.54,118.36 262.15,117.72 262.76,117.00 263.37,116.19 263.98,115.30 264.59,114.34 265.21,113.29 265.82,112.17 266.43,110.97 267.04,109.71 267.65,108.39 268.27,107.01 268.88,105.58 269.49,104.11 270.10,102.59 270.71,101.04 271.32,99.45 271.94,97.84 272.55,96.21 273.16,94.56 273.77,92.90 274.38,91.24 275.00,89.56 275.61,87.89 276.22,86.22 276.83,84.56 277.44,82.91 278.05,81.27 278.67,79.64 279.28,78.03 279.89,76.44 280.50,74.87 281.11,73.32 281.72,71.80 282.34,70.30 282.95,68.82 283.56,67.37 284.17,65.95 284.78,64.56 285.40,63.19 286.01,61.86 286.62,60.55 287.23,59.27 287.84,58.03 288.45,56.81 289.07,55.62 289.68,54.46 290.29,53.33 290.90,52.23 291.51,51.16 292.12,50.11 292.74,49.10 293.35,48.11 293.96,47.15 294.57,46.21 295.18,45.30 295.80,44.42 296.41,43.56 297.02,42.73 297.63,41.92 298.24,41.14 298.85,40.38 299.47,39.64 300.08,38.92 300.69,38.23 301.30,37.55 301.91,36.90 302.53,36.26 303.14,35.65 303.75,35.06 304.36,34.48 304.97,33.92 305.58,33.38 306.20,32.85 306.81,32.35 307.42,31.85 308.03,31.38 308.64,30.92 309.25,30.47 309.87,30.04 310.48,29.62 311.09,29.21 311.70,28.82 312.31,28.44 312.93,28.07 313.54,27.72 314.15,27.37 314.76,27.04 315.37,26.71 315.98,26.40 316.60,26.10 317.21,25.80 317.82,25.52 318.43,25.25 319.04,24.98 319.66,24.72 320.27,24.48 320.88,24.23 321.49,24.00 322.10,23.78 322.71,23.56 323.33,23.35 323.94,23.14 324.55,22.94 325.16,22.75 325.77,22.57 326.38,22.39 327.00,22.21 327.61,22.04 328.22,21.88 328.83,21.72 329.44,21.57 330.06,21.42 330.67,21.28 331.28,21.14 331.89,21.01 332.50,20.88 333.11,20.75 333.73,20.63 334.34,20.51 334.95,20.40 335.56,20.29 336.17,20.18 336.79,20.08 337.40,19.98 338.01,19.88 338.62,19.78 339.23,19.69 339.84,19.60 340.46,19.52 341.07,19.44 341.68,19.35 342.29,19.28 342.90,19.20 343.52,19.13 344.13,19.06 344.74,18.99 345.35,18.92 345.96,18.86 346.57,18.79 347.19,18.73 347.80,18.68 348.41,18.62 349.02,18.56 349.63,18.51 350.24,18.46 350.86,18.41 351.47,18.36 352.08,18.31 352.69,18.27 353.30,18.22 353.92,18.18 354.53,18.14 355.14,18.10 355.75,18.06 356.36,18.02 356.97,17.98 357.59,17.94 358.20,17.91 358.81,17.88 359.42,17.84 360.03,17.81 360.65,17.78 361.26,17.75 361.87,17.72 362.48,17.69 363.09,17.67 363.70,17.64 364.32,17.61 364.93,17.59 365.54,17.56 366.15,17.54 366.76,17.52 367.37,17.50 367.99,17.47 368.60,17.45 369.21,17.43 369.82,17.41 370.43,17.39 371.05,17.37 371.66,17.36 372.27,17.34 372.88,17.32 373.49,17.30 374.10,17.29 374.72,17.27 375.33,17.26 375.94,17.24 376.55,17.23 377.16,17.21 377.78,17.20 378.39,17.19 379.00,17.18 379.61,17.16 380.22,17.15 380.83,17.14 381.45,17.13 382.06,17.12 382.67,17.11 383.28,17.09 383.89,17.08 384.50,17.07 385.12,17.06 385.73,17.06 386.34,17.05 386.95,17.04 387.56,17.03 388.18,17.02 388.79,17.01 389.40,17.00 390.01,17.00 390.62,16.99 391.23,16.98 391.85,16.97 392.46,16.97 393.07,16.96 393.68,16.95 394.29,16.95 394.91,16.94 395.52,16.94 396.13,16.93 396.74,16.92 397.35,16.92 397.96,16.91 398.58,16.91 399.19,16.90 399.80,16.90 400.41,16.89 401.02,16.89 401.63,16.88 402.25,16.88 402.86,16.87 403.47,16.87 404.08,16.87 404.69,16.86 405.31,16.86 405.92,16.85 406.53,16.85 407.14,16.85 407.75,16.84 408.36,16.84 408.98,16.84 409.59,16.83 410.20,16.83 410.81,16.83 411.42,16.82 412.04,16.82 412.65,16.82 413.26,16.82 413.87,16.81 414.48,16.81 415.09,16.81 415.71,16.80 416.32,16.80 416.93,16.80 417.54,16.80 418.15,16.80 418.76,16.79 419.38,16.79 419.99,16.79 420.60,16.79" fill="none" stroke="#0000FF" stroke-width="1.3" stroke-linejoin="round"/>
<path d="M273.77 199.40V304.70M298.24 199.40V304.70M322.71 199.40V304.70M347.19 199.40V304.70M371.66 199.40V304.70M396.13 199.40V304.70M249.30 283.64H420.60M249.30 262.58H420.60M249.30 241.52H420.60M249.30 220.46H420.60" stroke="#E0E0E0" stroke-width="0.7" fill="none"/>
<rect x="249.30" y="199.40" width="171.30" height="105.30" fill="none" stroke="#A6A6A6" stroke-width="0.8"/>
<text x="244.10" y="306.70" text-anchor="end" class="tk">0.0</text>
<text x="244.10" y="285.64" text-anchor="end" class="tk">0.2</text>
<text x="244.10" y="264.58" text-anchor="end" class="tk">0.4</text>
<text x="244.10" y="243.52" text-anchor="end" class="tk">0.6</text>
<text x="244.10" y="222.46" text-anchor="end" class="tk">0.8</text>
<text x="244.10" y="201.40" text-anchor="end" class="tk">1.0</text>
<text x="249.30" y="314.00" text-anchor="middle" class="tk">0.0</text>
<text x="273.77" y="314.00" text-anchor="middle" class="tk">0.2</text>
<text x="298.24" y="314.00" text-anchor="middle" class="tk">0.4</text>
<text x="322.71" y="314.00" text-anchor="middle" class="tk">0.6</text>
<text x="347.19" y="314.00" text-anchor="middle" class="tk">0.8</text>
<text x="371.66" y="314.00" text-anchor="middle" class="tk">1.0</text>
<text x="396.13" y="314.00" text-anchor="middle" class="tk">1.2</text>
<text x="420.60" y="314.00" text-anchor="middle" class="tk">1.4</text>
<text transform="translate(226.30,249.45) rotate(-90)" text-anchor="middle" font-size="6.4" font-weight="bold" fill="#000">P (IDR<tspan font-size="6.4">max</tspan> &gt; IDR<tspan>max-IO</tspan>)</text>
<text x="338.90" y="325.90" text-anchor="middle" font-size="6.45" font-weight="bold" fill="#000">Spectral Acceleration, Sa (g)</text>
<text x="330.20" y="190.70" text-anchor="middle" class="ti">d<tspan font-size="5.6" dy="0.9">g</tspan><tspan dy="-0.9"> = 2.0 cm</tspan></text>
<polyline points="249.30,304.70 249.91,304.70 250.52,304.70 251.14,304.70 251.75,304.70 252.36,304.70 252.97,304.70 253.58,304.69 254.19,304.68 254.81,304.65 255.42,304.60 256.03,304.50 256.64,304.35 257.25,304.12 257.87,303.81 258.48,303.39 259.09,302.85 259.70,302.19 260.31,301.39 260.92,300.46 261.54,299.38 262.15,298.16 262.76,296.81 263.37,295.33 263.98,293.72 264.59,292.01 265.21,290.18 265.82,288.27 266.43,286.28 267.04,284.21 267.65,282.09 268.27,279.92 268.88,277.72 269.49,275.48 270.10,273.24 270.71,270.98 271.32,268.73 271.94,266.49 272.55,264.26 273.16,262.05 273.77,259.87 274.38,257.73 275.00,255.62 275.61,253.55 276.22,251.53 276.83,249.55 277.44,247.62 278.05,245.75 278.67,243.92 279.28,242.15 279.89,240.43 280.50,238.76 281.11,237.15 281.72,235.59 282.34,234.09 282.95,232.63 283.56,231.23 284.17,229.88 284.78,228.58 285.40,227.33 286.01,226.13 286.62,224.98 287.23,223.87 287.84,222.80 288.45,221.78 289.07,220.80 289.68,219.86 290.29,218.96 290.90,218.10 291.51,217.27 292.12,216.48 292.74,215.72 293.35,215.00 293.96,214.31 294.57,213.64 295.18,213.01 295.80,212.40 296.41,211.82 297.02,211.27 297.63,210.74 298.24,210.23 298.85,209.75 299.47,209.29 300.08,208.85 300.69,208.43 301.30,208.03 301.91,207.64 302.53,207.28 303.14,206.93 303.75,206.59 304.36,206.27 304.97,205.97 305.58,205.68 306.20,205.40 306.81,205.13 307.42,204.88 308.03,204.64 308.64,204.41 309.25,204.19 309.87,203.98 310.48,203.78 311.09,203.58 311.70,203.40 312.31,203.23 312.93,203.06 313.54,202.90 314.15,202.75 314.76,202.60 315.37,202.46 315.98,202.33 316.60,202.21 317.21,202.08 317.82,201.97 318.43,201.86 319.04,201.75 319.66,201.65 320.27,201.56 320.88,201.47 321.49,201.38 322.10,201.29 322.71,201.21 323.33,201.14 323.94,201.06 324.55,200.99 325.16,200.93 325.77,200.86 326.38,200.80 327.00,200.74 327.61,200.69 328.22,200.63 328.83,200.58 329.44,200.53 330.06,200.49 330.67,200.44 331.28,200.40 331.89,200.36 332.50,200.32 333.11,200.28 333.73,200.25 334.34,200.21 334.95,200.18 335.56,200.15 336.17,200.12 336.79,200.09 337.40,200.06 338.01,200.03 338.62,200.01 339.23,199.98 339.84,199.96 340.46,199.94 341.07,199.92 341.68,199.90 342.29,199.88 342.90,199.86 343.52,199.84 344.13,199.82 344.74,199.81 345.35,199.79 345.96,199.77 346.57,199.76 347.19,199.75 347.80,199.73 348.41,199.72 349.02,199.71 349.63,199.70 350.24,199.68 350.86,199.67 351.47,199.66 352.08,199.65 352.69,199.64 353.30,199.63 353.92,199.63 354.53,199.62 355.14,199.61 355.75,199.60 356.36,199.59 356.97,199.59 357.59,199.58 358.20,199.57 358.81,199.57 359.42,199.56 360.03,199.55 360.65,199.55 361.26,199.54 361.87,199.54 362.48,199.53 363.09,199.53 363.70,199.52 364.32,199.52 364.93,199.51 365.54,199.51 366.15,199.51 366.76,199.50 367.37,199.50 367.99,199.49 368.60,199.49 369.21,199.49 369.82,199.48 370.43,199.48 371.05,199.48 371.66,199.48 372.27,199.47 372.88,199.47 373.49,199.47 374.10,199.47 374.72,199.46 375.33,199.46 375.94,199.46 376.55,199.46 377.16,199.46 377.78,199.45 378.39,199.45 379.00,199.45 379.61,199.45 380.22,199.45 380.83,199.44 381.45,199.44 382.06,199.44 382.67,199.44 383.28,199.44 383.89,199.44 384.50,199.44 385.12,199.43 385.73,199.43 386.34,199.43 386.95,199.43 387.56,199.43 388.18,199.43 388.79,199.43 389.40,199.43 390.01,199.43 390.62,199.43 391.23,199.42 391.85,199.42 392.46,199.42 393.07,199.42 393.68,199.42 394.29,199.42 394.91,199.42 395.52,199.42 396.13,199.42 396.74,199.42 397.35,199.42 397.96,199.42 398.58,199.42 399.19,199.42 399.80,199.42 400.41,199.42 401.02,199.41 401.63,199.41 402.25,199.41 402.86,199.41 403.47,199.41 404.08,199.41 404.69,199.41 405.31,199.41 405.92,199.41 406.53,199.41 407.14,199.41 407.75,199.41 408.36,199.41 408.98,199.41 409.59,199.41 410.20,199.41 410.81,199.41 411.42,199.41 412.04,199.41 412.65,199.41 413.26,199.41 413.87,199.41 414.48,199.41 415.09,199.41 415.71,199.41 416.32,199.41 416.93,199.41 417.54,199.41 418.15,199.41 418.76,199.41 419.38,199.41 419.99,199.41 420.60,199.41" fill="none" stroke="#70AD47" stroke-width="1.3" stroke-dasharray="3.4 2.0" stroke-linejoin="round"/>
<polyline points="249.30,304.70 249.91,304.70 250.52,304.70 251.14,304.70 251.75,304.70 252.36,304.70 252.97,304.70 253.58,304.70 254.19,304.70 254.81,304.70 255.42,304.70 256.03,304.70 256.64,304.70 257.25,304.70 257.87,304.70 258.48,304.70 259.09,304.70 259.70,304.70 260.31,304.70 260.92,304.70 261.54,304.70 262.15,304.69 262.76,304.69 263.37,304.69 263.98,304.68 264.59,304.67 265.21,304.66 265.82,304.65 266.43,304.64 267.04,304.62 267.65,304.59 268.27,304.56 268.88,304.53 269.49,304.49 270.10,304.44 270.71,304.38 271.32,304.32 271.94,304.25 272.55,304.16 273.16,304.07 273.77,303.96 274.38,303.84 275.00,303.71 275.61,303.57 276.22,303.41 276.83,303.23 277.44,303.05 278.05,302.84 278.67,302.62 279.28,302.38 279.89,302.13 280.50,301.86 281.11,301.57 281.72,301.26 282.34,300.94 282.95,300.59 283.56,300.23 284.17,299.85 284.78,299.45 285.40,299.04 286.01,298.60 286.62,298.15 287.23,297.68 287.84,297.20 288.45,296.69 289.07,296.17 289.68,295.63 290.29,295.08 290.90,294.51 291.51,293.92 292.12,293.32 292.74,292.70 293.35,292.07 293.96,291.43 294.57,290.77 295.18,290.10 295.80,289.42 296.41,288.73 297.02,288.02 297.63,287.30 298.24,286.58 298.85,285.84 299.47,285.09 300.08,284.34 300.69,283.58 301.30,282.81 301.91,282.03 302.53,281.25 303.14,280.46 303.75,279.66 304.36,278.86 304.97,278.06 305.58,277.25 306.20,276.44 306.81,275.63 307.42,274.81 308.03,273.99 308.64,273.17 309.25,272.35 309.87,271.52 310.48,270.70 311.09,269.87 311.70,269.05 312.31,268.23 312.93,267.41 313.54,266.59 314.15,265.77 314.76,264.95 315.37,264.14 315.98,263.33 316.60,262.52 317.21,261.72 317.82,260.92 318.43,260.12 319.04,259.33 319.66,258.54 320.27,257.75 320.88,256.97 321.49,256.20 322.10,255.43 322.71,254.67 323.33,253.91 323.94,253.15 324.55,252.41 325.16,251.67 325.77,250.93 326.38,250.20 327.00,249.48 327.61,248.76 328.22,248.05 328.83,247.35 329.44,246.65 330.06,245.96 330.67,245.28 331.28,244.60 331.89,243.94 332.50,243.27 333.11,242.62 333.73,241.97 334.34,241.33 334.95,240.70 335.56,240.07 336.17,239.45 336.79,238.84 337.40,238.24 338.01,237.64 338.62,237.05 339.23,236.47 339.84,235.89 340.46,235.32 341.07,234.76 341.68,234.21 342.29,233.66 342.90,233.12 343.52,232.59 344.13,232.06 344.74,231.54 345.35,231.03 345.96,230.52 346.57,230.03 347.19,229.53 347.80,229.05 348.41,228.57 349.02,228.10 349.63,227.64 350.24,227.18 350.86,226.73 351.47,226.28 352.08,225.84 352.69,225.41 353.30,224.99 353.92,224.57 354.53,224.15 355.14,223.75 355.75,223.35 356.36,222.95 356.97,222.56 357.59,222.18 358.20,221.80 358.81,221.43 359.42,221.07 360.03,220.71 360.65,220.35 361.26,220.00 361.87,219.66 362.48,219.32 363.09,218.99 363.70,218.66 364.32,218.34 364.93,218.02 365.54,217.71 366.15,217.40 366.76,217.10 367.37,216.80 367.99,216.50 368.60,216.22 369.21,215.93 369.82,215.65 370.43,215.38 371.05,215.11 371.66,214.84 372.27,214.58 372.88,214.33 373.49,214.07 374.10,213.82 374.72,213.58 375.33,213.34 375.94,213.10 376.55,212.87 377.16,212.64 377.78,212.42 378.39,212.19 379.00,211.98 379.61,211.76 380.22,211.55 380.83,211.34 381.45,211.14 382.06,210.94 382.67,210.74 383.28,210.55 383.89,210.36 384.50,210.17 385.12,209.99 385.73,209.81 386.34,209.63 386.95,209.46 387.56,209.29 388.18,209.12 388.79,208.95 389.40,208.79 390.01,208.63 390.62,208.47 391.23,208.32 391.85,208.16 392.46,208.01 393.07,207.87 393.68,207.72 394.29,207.58 394.91,207.44 395.52,207.30 396.13,207.17 396.74,207.04 397.35,206.91 397.96,206.78 398.58,206.65 399.19,206.53 399.80,206.41 400.41,206.29 401.02,206.17 401.63,206.06 402.25,205.94 402.86,205.83 403.47,205.72 404.08,205.61 404.69,205.51 405.31,205.40 405.92,205.30 406.53,205.20 407.14,205.10 407.75,205.01 408.36,204.91 408.98,204.82 409.59,204.73 410.20,204.64 410.81,204.55 411.42,204.46 412.04,204.37 412.65,204.29 413.26,204.21 413.87,204.13 414.48,204.05 415.09,203.97 415.71,203.89 416.32,203.81 416.93,203.74 417.54,203.67 418.15,203.59 418.76,203.52 419.38,203.45 419.99,203.38 420.60,203.32" fill="none" stroke="#FFC000" stroke-width="1.2" stroke-dasharray="3.2 1.3 0.9 1.3" stroke-linejoin="round"/>
<polyline points="249.30,304.70 249.91,304.70 250.52,304.70 251.14,304.70 251.75,304.70 252.36,304.70 252.97,304.70 253.58,304.70 254.19,304.70 254.81,304.70 255.42,304.70 256.03,304.70 256.64,304.70 257.25,304.70 257.87,304.70 258.48,304.70 259.09,304.70 259.70,304.70 260.31,304.69 260.92,304.69 261.54,304.68 262.15,304.67 262.76,304.66 263.37,304.64 263.98,304.62 264.59,304.59 265.21,304.55 265.82,304.51 266.43,304.46 267.04,304.39 267.65,304.32 268.27,304.23 268.88,304.12 269.49,304.00 270.10,303.87 270.71,303.71 271.32,303.54 271.94,303.35 272.55,303.14 273.16,302.90 273.77,302.64 274.38,302.36 275.00,302.06 275.61,301.73 276.22,301.37 276.83,301.00 277.44,300.59 278.05,300.16 278.67,299.71 279.28,299.23 279.89,298.72 280.50,298.19 281.11,297.64 281.72,297.06 282.34,296.46 282.95,295.83 283.56,295.18 284.17,294.51 284.78,293.82 285.40,293.11 286.01,292.37 286.62,291.62 287.23,290.85 287.84,290.06 288.45,289.25 289.07,288.43 289.68,287.59 290.29,286.74 290.90,285.88 291.51,285.00 292.12,284.11 292.74,283.21 293.35,282.30 293.96,281.38 294.57,280.45 295.18,279.51 295.80,278.57 296.41,277.62 297.02,276.67 297.63,275.71 298.24,274.75 298.85,273.79 299.47,272.83 300.08,271.86 300.69,270.89 301.30,269.93 301.91,268.96 302.53,267.99 303.14,267.03 303.75,266.07 304.36,265.11 304.97,264.16 305.58,263.20 306.20,262.26 306.81,261.32 307.42,260.38 308.03,259.45 308.64,258.52 309.25,257.60 309.87,256.69 310.48,255.79 311.09,254.89 311.70,254.00 312.31,253.12 312.93,252.24 313.54,251.38 314.15,250.52 314.76,249.67 315.37,248.83 315.98,248.00 316.60,247.18 317.21,246.36 317.82,245.56 318.43,244.77 319.04,243.98 319.66,243.21 320.27,242.44 320.88,241.69 321.49,240.94 322.10,240.21 322.71,239.48 323.33,238.77 323.94,238.06 324.55,237.37 325.16,236.68 325.77,236.00 326.38,235.34 327.00,234.68 327.61,234.04 328.22,233.40 328.83,232.77 329.44,232.16 330.06,231.55 330.67,230.95 331.28,230.36 331.89,229.79 332.50,229.22 333.11,228.66 333.73,228.11 334.34,227.56 334.95,227.03 335.56,226.51 336.17,225.99 336.79,225.49 337.40,224.99 338.01,224.50 338.62,224.02 339.23,223.55 339.84,223.08 340.46,222.63 341.07,222.18 341.68,221.74 342.29,221.31 342.90,220.89 343.52,220.47 344.13,220.06 344.74,219.66 345.35,219.27 345.96,218.88 346.57,218.50 347.19,218.13 347.80,217.76 348.41,217.40 349.02,217.05 349.63,216.70 350.24,216.36 350.86,216.03 351.47,215.70 352.08,215.38 352.69,215.07 353.30,214.76 353.92,214.46 354.53,214.16 355.14,213.87 355.75,213.58 356.36,213.31 356.97,213.03 357.59,212.76 358.20,212.50 358.81,212.24 359.42,211.98 360.03,211.74 360.65,211.49 361.26,211.25 361.87,211.02 362.48,210.79 363.09,210.56 363.70,210.34 364.32,210.12 364.93,209.91 365.54,209.70 366.15,209.50 366.76,209.30 367.37,209.10 367.99,208.91 368.60,208.72 369.21,208.54 369.82,208.36 370.43,208.18 371.05,208.00 371.66,207.83 372.27,207.67 372.88,207.50 373.49,207.34 374.10,207.18 374.72,207.03 375.33,206.88 375.94,206.73 376.55,206.59 377.16,206.44 377.78,206.30 378.39,206.17 379.00,206.03 379.61,205.90 380.22,205.77 380.83,205.65 381.45,205.53 382.06,205.40 382.67,205.29 383.28,205.17 383.89,205.06 384.50,204.94 385.12,204.84 385.73,204.73 386.34,204.62 386.95,204.52 387.56,204.42 388.18,204.32 388.79,204.22 389.40,204.13 390.01,204.04 390.62,203.95 391.23,203.86 391.85,203.77 392.46,203.68 393.07,203.60 393.68,203.52 394.29,203.44 394.91,203.36 395.52,203.28 396.13,203.21 396.74,203.13 397.35,203.06 397.96,202.99 398.58,202.92 399.19,202.85 399.80,202.78 400.41,202.72 401.02,202.65 401.63,202.59 402.25,202.53 402.86,202.47 403.47,202.41 404.08,202.35 404.69,202.29 405.31,202.24 405.92,202.18 406.53,202.13 407.14,202.07 407.75,202.02 408.36,201.97 408.98,201.92 409.59,201.87 410.20,201.83 410.81,201.78 411.42,201.73 412.04,201.69 412.65,201.65 413.26,201.60 413.87,201.56 414.48,201.52 415.09,201.48 415.71,201.44 416.32,201.40 416.93,201.36 417.54,201.32 418.15,201.29 418.76,201.25 419.38,201.22 419.99,201.18 420.60,201.15" fill="none" stroke="#1a1a1a" stroke-width="1.05" stroke-dasharray="0 1.65" stroke-linecap="round" stroke-linejoin="round"/>
<polyline points="249.30,304.70 249.91,304.70 250.52,304.70 251.14,304.70 251.75,304.70 252.36,304.70 252.97,304.70 253.58,304.70 254.19,304.70 254.81,304.70 255.42,304.70 256.03,304.70 256.64,304.70 257.25,304.70 257.87,304.70 258.48,304.69 259.09,304.69 259.70,304.68 260.31,304.67 260.92,304.66 261.54,304.64 262.15,304.62 262.76,304.58 263.37,304.54 263.98,304.49 264.59,304.42 265.21,304.34 265.82,304.24 266.43,304.12 267.04,303.99 267.65,303.83 268.27,303.65 268.88,303.44 269.49,303.21 270.10,302.95 270.71,302.66 271.32,302.34 271.94,301.99 272.55,301.61 273.16,301.20 273.77,300.75 274.38,300.28 275.00,299.77 275.61,299.23 276.22,298.65 276.83,298.05 277.44,297.41 278.05,296.74 278.67,296.05 279.28,295.32 279.89,294.56 280.50,293.78 281.11,292.97 281.72,292.14 282.34,291.28 282.95,290.40 283.56,289.49 284.17,288.57 284.78,287.63 285.40,286.66 286.01,285.68 286.62,284.69 287.23,283.68 287.84,282.66 288.45,281.62 289.07,280.58 289.68,279.52 290.29,278.46 290.90,277.39 291.51,276.31 292.12,275.23 292.74,274.15 293.35,273.06 293.96,271.97 294.57,270.88 295.18,269.79 295.80,268.70 296.41,267.61 297.02,266.53 297.63,265.45 298.24,264.37 298.85,263.30 299.47,262.23 300.08,261.17 300.69,260.12 301.30,259.07 301.91,258.03 302.53,257.00 303.14,255.98 303.75,254.97 304.36,253.97 304.97,252.97 305.58,251.99 306.20,251.02 306.81,250.06 307.42,249.11 308.03,248.17 308.64,247.25 309.25,246.33 309.87,245.43 310.48,244.54 311.09,243.66 311.70,242.79 312.31,241.94 312.93,241.10 313.54,240.27 314.15,239.46 314.76,238.65 315.37,237.86 315.98,237.08 316.60,236.32 317.21,235.57 317.82,234.82 318.43,234.10 319.04,233.38 319.66,232.68 320.27,231.99 320.88,231.31 321.49,230.64 322.10,229.99 322.71,229.35 323.33,228.71 323.94,228.10 324.55,227.49 325.16,226.89 325.77,226.31 326.38,225.73 327.00,225.17 327.61,224.62 328.22,224.08 328.83,223.55 329.44,223.03 330.06,222.52 330.67,222.02 331.28,221.53 331.89,221.05 332.50,220.58 333.11,220.12 333.73,219.67 334.34,219.22 334.95,218.79 335.56,218.37 336.17,217.95 336.79,217.55 337.40,217.15 338.01,216.76 338.62,216.38 339.23,216.00 339.84,215.64 340.46,215.28 341.07,214.93 341.68,214.59 342.29,214.25 342.90,213.92 343.52,213.60 344.13,213.29 344.74,212.98 345.35,212.68 345.96,212.39 346.57,212.10 347.19,211.82 347.80,211.54 348.41,211.27 349.02,211.01 349.63,210.75 350.24,210.50 350.86,210.26 351.47,210.01 352.08,209.78 352.69,209.55 353.30,209.32 353.92,209.10 354.53,208.89 355.14,208.68 355.75,208.47 356.36,208.27 356.97,208.07 357.59,207.88 358.20,207.69 358.81,207.51 359.42,207.33 360.03,207.15 360.65,206.98 361.26,206.81 361.87,206.65 362.48,206.49 363.09,206.33 363.70,206.18 364.32,206.03 364.93,205.88 365.54,205.74 366.15,205.60 366.76,205.46 367.37,205.33 367.99,205.20 368.60,205.07 369.21,204.95 369.82,204.82 370.43,204.70 371.05,204.59 371.66,204.47 372.27,204.36 372.88,204.25 373.49,204.15 374.10,204.04 374.72,203.94 375.33,203.84 375.94,203.74 376.55,203.65 377.16,203.56 377.78,203.46 378.39,203.38 379.00,203.29 379.61,203.20 380.22,203.12 380.83,203.04 381.45,202.96 382.06,202.88 382.67,202.81 383.28,202.73 383.89,202.66 384.50,202.59 385.12,202.52 385.73,202.45 386.34,202.39 386.95,202.32 387.56,202.26 388.18,202.20 388.79,202.14 389.40,202.08 390.01,202.02 390.62,201.96 391.23,201.91 391.85,201.86 392.46,201.80 393.07,201.75 393.68,201.70 394.29,201.65 394.91,201.60 395.52,201.56 396.13,201.51 396.74,201.47 397.35,201.42 397.96,201.38 398.58,201.34 399.19,201.30 399.80,201.25 400.41,201.22 401.02,201.18 401.63,201.14 402.25,201.10 402.86,201.07 403.47,201.03 404.08,201.00 404.69,200.96 405.31,200.93 405.92,200.90 406.53,200.87 407.14,200.84 407.75,200.81 408.36,200.78 408.98,200.75 409.59,200.72 410.20,200.69 410.81,200.66 411.42,200.64 412.04,200.61 412.65,200.59 413.26,200.56 413.87,200.54 414.48,200.51 415.09,200.49 415.71,200.47 416.32,200.45 416.93,200.43 417.54,200.40 418.15,200.38 418.76,200.36 419.38,200.34 419.99,200.32 420.60,200.30" fill="none" stroke="#1a1a1a" stroke-width="1.05" stroke-dasharray="0 1.65" stroke-linecap="round" stroke-linejoin="round"/>
<polyline points="249.30,304.70 249.91,304.70 250.52,304.70 251.14,304.70 251.75,304.70 252.36,304.70 252.97,304.70 253.58,304.70 254.19,304.70 254.81,304.69 255.42,304.68 256.03,304.67 256.64,304.64 257.25,304.59 257.87,304.51 258.48,304.40 259.09,304.25 259.70,304.06 260.31,303.80 260.92,303.49 261.54,303.10 262.15,302.64 262.76,302.11 263.37,301.49 263.98,300.78 264.59,299.99 265.21,299.12 265.82,298.16 266.43,297.13 267.04,296.01 267.65,294.81 268.27,293.55 268.88,292.21 269.49,290.82 270.10,289.36 270.71,287.86 271.32,286.30 271.94,284.71 272.55,283.07 273.16,281.41 273.77,279.72 274.38,278.01 275.00,276.28 275.61,274.54 276.22,272.79 276.83,271.04 277.44,269.30 278.05,267.55 278.67,265.81 279.28,264.09 279.89,262.38 280.50,260.68 281.11,259.00 281.72,257.35 282.34,255.71 282.95,254.10 283.56,252.52 284.17,250.96 284.78,249.44 285.40,247.94 286.01,246.47 286.62,245.03 287.23,243.63 287.84,242.26 288.45,240.92 289.07,239.61 289.68,238.33 290.29,237.09 290.90,235.87 291.51,234.70 292.12,233.55 292.74,232.43 293.35,231.35 293.96,230.29 294.57,229.27 295.18,228.27 295.80,227.31 296.41,226.38 297.02,225.47 297.63,224.59 298.24,223.74 298.85,222.91 299.47,222.11 300.08,221.34 300.69,220.59 301.30,219.86 301.91,219.16 302.53,218.48 303.14,217.83 303.75,217.19 304.36,216.58 304.97,215.99 305.58,215.41 306.20,214.86 306.81,214.32 307.42,213.81 308.03,213.31 308.64,212.82 309.25,212.36 309.87,211.91 310.48,211.47 311.09,211.05 311.70,210.65 312.31,210.26 312.93,209.88 313.54,209.52 314.15,209.17 314.76,208.83 315.37,208.50 315.98,208.18 316.60,207.88 317.21,207.59 317.82,207.30 318.43,207.03 319.04,206.76 319.66,206.51 320.27,206.26 320.88,206.03 321.49,205.80 322.10,205.58 322.71,205.36 323.33,205.16 323.94,204.96 324.55,204.77 325.16,204.59 325.77,204.41 326.38,204.24 327.00,204.07 327.61,203.91 328.22,203.76 328.83,203.61 329.44,203.47 330.06,203.33 330.67,203.19 331.28,203.06 331.89,202.94 332.50,202.82 333.11,202.70 333.73,202.59 334.34,202.49 334.95,202.38 335.56,202.28 336.17,202.18 336.79,202.09 337.40,202.00 338.01,201.91 338.62,201.83 339.23,201.75 339.84,201.67 340.46,201.60 341.07,201.52 341.68,201.45 342.29,201.38 342.90,201.32 343.52,201.26 344.13,201.19 344.74,201.14 345.35,201.08 345.96,201.02 346.57,200.97 347.19,200.92 347.80,200.87 348.41,200.82 349.02,200.78 349.63,200.73 350.24,200.69 350.86,200.65 351.47,200.61 352.08,200.57 352.69,200.53 353.30,200.49 353.92,200.46 354.53,200.42 355.14,200.39 355.75,200.36 356.36,200.33 356.97,200.30 357.59,200.27 358.20,200.24 358.81,200.22 359.42,200.19 360.03,200.17 360.65,200.14 361.26,200.12 361.87,200.10 362.48,200.07 363.09,200.05 363.70,200.03 364.32,200.01 364.93,199.99 365.54,199.98 366.15,199.96 366.76,199.94 367.37,199.92 367.99,199.91 368.60,199.89 369.21,199.88 369.82,199.86 370.43,199.85 371.05,199.83 371.66,199.82 372.27,199.81 372.88,199.80 373.49,199.78 374.10,199.77 374.72,199.76 375.33,199.75 375.94,199.74 376.55,199.73 377.16,199.72 377.78,199.71 378.39,199.70 379.00,199.69 379.61,199.68 380.22,199.67 380.83,199.67 381.45,199.66 382.06,199.65 382.67,199.64 383.28,199.64 383.89,199.63 384.50,199.62 385.12,199.62 385.73,199.61 386.34,199.60 386.95,199.60 387.56,199.59 388.18,199.59 388.79,199.58 389.40,199.58 390.01,199.57 390.62,199.57 391.23,199.56 391.85,199.56 392.46,199.55 393.07,199.55 393.68,199.54 394.29,199.54 394.91,199.53 395.52,199.53 396.13,199.53 396.74,199.52 397.35,199.52 397.96,199.52 398.58,199.51 399.19,199.51 399.80,199.51 400.41,199.50 401.02,199.50 401.63,199.50 402.25,199.50 402.86,199.49 403.47,199.49 404.08,199.49 404.69,199.49 405.31,199.48 405.92,199.48 406.53,199.48 407.14,199.48 407.75,199.47 408.36,199.47 408.98,199.47 409.59,199.47 410.20,199.47 410.81,199.46 411.42,199.46 412.04,199.46 412.65,199.46 413.26,199.46 413.87,199.46 414.48,199.45 415.09,199.45 415.71,199.45 416.32,199.45 416.93,199.45 417.54,199.45 418.15,199.45 418.76,199.45 419.38,199.44 419.99,199.44 420.60,199.44" fill="none" stroke="#FF0000" stroke-width="1.3" stroke-linejoin="round"/>
<polyline points="249.30,304.70 249.91,304.70 250.52,304.70 251.14,304.70 251.75,304.70 252.36,304.70 252.97,304.70 253.58,304.70 254.19,304.70 254.81,304.70 255.42,304.70 256.03,304.70 256.64,304.69 257.25,304.69 257.87,304.68 258.48,304.66 259.09,304.64 259.70,304.60 260.31,304.56 260.92,304.49 261.54,304.40 262.15,304.29 262.76,304.15 263.37,303.99 263.98,303.78 264.59,303.54 265.21,303.25 265.82,302.93 266.43,302.55 267.04,302.13 267.65,301.66 268.27,301.14 268.88,300.57 269.49,299.94 270.10,299.26 270.71,298.53 271.32,297.75 271.94,296.92 272.55,296.04 273.16,295.12 273.77,294.15 274.38,293.13 275.00,292.08 275.61,290.98 276.22,289.85 276.83,288.68 277.44,287.49 278.05,286.26 278.67,285.01 279.28,283.73 279.89,282.43 280.50,281.11 281.11,279.78 281.72,278.43 282.34,277.07 282.95,275.70 283.56,274.33 284.17,272.95 284.78,271.56 285.40,270.18 286.01,268.80 286.62,267.42 287.23,266.04 287.84,264.67 288.45,263.31 289.07,261.95 289.68,260.61 290.29,259.28 290.90,257.96 291.51,256.65 292.12,255.36 292.74,254.08 293.35,252.82 293.96,251.58 294.57,250.35 295.18,249.14 295.80,247.95 296.41,246.78 297.02,245.63 297.63,244.50 298.24,243.38 298.85,242.29 299.47,241.22 300.08,240.16 300.69,239.13 301.30,238.12 301.91,237.13 302.53,236.16 303.14,235.20 303.75,234.27 304.36,233.36 304.97,232.47 305.58,231.60 306.20,230.75 306.81,229.91 307.42,229.10 308.03,228.31 308.64,227.53 309.25,226.77 309.87,226.03 310.48,225.31 311.09,224.61 311.70,223.92 312.31,223.25 312.93,222.60 313.54,221.97 314.15,221.35 314.76,220.74 315.37,220.15 315.98,219.58 316.60,219.02 317.21,218.48 317.82,217.95 318.43,217.43 319.04,216.93 319.66,216.44 320.27,215.97 320.88,215.50 321.49,215.05 322.10,214.62 322.71,214.19 323.33,213.78 323.94,213.37 324.55,212.98 325.16,212.60 325.77,212.23 326.38,211.87 327.00,211.52 327.61,211.18 328.22,210.85 328.83,210.52 329.44,210.21 330.06,209.91 330.67,209.61 331.28,209.32 331.89,209.04 332.50,208.77 333.11,208.51 333.73,208.25 334.34,208.00 334.95,207.76 335.56,207.52 336.17,207.30 336.79,207.07 337.40,206.86 338.01,206.65 338.62,206.44 339.23,206.25 339.84,206.05 340.46,205.87 341.07,205.69 341.68,205.51 342.29,205.34 342.90,205.17 343.52,205.01 344.13,204.85 344.74,204.70 345.35,204.55 345.96,204.41 346.57,204.27 347.19,204.13 347.80,204.00 348.41,203.87 349.02,203.75 349.63,203.63 350.24,203.51 350.86,203.40 351.47,203.29 352.08,203.18 352.69,203.07 353.30,202.97 353.92,202.87 354.53,202.78 355.14,202.68 355.75,202.59 356.36,202.51 356.97,202.42 357.59,202.34 358.20,202.26 358.81,202.18 359.42,202.10 360.03,202.03 360.65,201.96 361.26,201.89 361.87,201.82 362.48,201.75 363.09,201.69 363.70,201.63 364.32,201.57 364.93,201.51 365.54,201.45 366.15,201.39 366.76,201.34 367.37,201.29 367.99,201.24 368.60,201.19 369.21,201.14 369.82,201.09 370.43,201.05 371.05,201.00 371.66,200.96 372.27,200.92 372.88,200.88 373.49,200.84 374.10,200.80 374.72,200.76 375.33,200.73 375.94,200.69 376.55,200.66 377.16,200.62 377.78,200.59 378.39,200.56 379.00,200.53 379.61,200.50 380.22,200.47 380.83,200.44 381.45,200.41 382.06,200.39 382.67,200.36 383.28,200.34 383.89,200.31 384.50,200.29 385.12,200.27 385.73,200.24 386.34,200.22 386.95,200.20 387.56,200.18 388.18,200.16 388.79,200.14 389.40,200.12 390.01,200.10 390.62,200.08 391.23,200.07 391.85,200.05 392.46,200.03 393.07,200.02 393.68,200.00 394.29,199.98 394.91,199.97 395.52,199.96 396.13,199.94 396.74,199.93 397.35,199.91 397.96,199.90 398.58,199.89 399.19,199.88 399.80,199.86 400.41,199.85 401.02,199.84 401.63,199.83 402.25,199.82 402.86,199.81 403.47,199.80 404.08,199.79 404.69,199.78 405.31,199.77 405.92,199.76 406.53,199.75 407.14,199.74 407.75,199.73 408.36,199.73 408.98,199.72 409.59,199.71 410.20,199.70 410.81,199.69 411.42,199.69 412.04,199.68 412.65,199.67 413.26,199.67 413.87,199.66 414.48,199.65 415.09,199.65 415.71,199.64 416.32,199.64 416.93,199.63 417.54,199.62 418.15,199.62 418.76,199.61 419.38,199.61 419.99,199.60 420.60,199.60" fill="none" stroke="#0000FF" stroke-width="1.3" stroke-linejoin="round"/>
<path d="M273.77 383.40V488.30M298.24 383.40V488.30M322.71 383.40V488.30M347.19 383.40V488.30M371.66 383.40V488.30M396.13 383.40V488.30M249.30 467.32H420.60M249.30 446.34H420.60M249.30 425.36H420.60M249.30 404.38H420.60" stroke="#E0E0E0" stroke-width="0.7" fill="none"/>
<rect x="249.30" y="383.40" width="171.30" height="104.90" fill="none" stroke="#A6A6A6" stroke-width="0.8"/>
<text x="244.10" y="490.30" text-anchor="end" class="tk">0.0</text>
<text x="244.10" y="469.32" text-anchor="end" class="tk">0.2</text>
<text x="244.10" y="448.34" text-anchor="end" class="tk">0.4</text>
<text x="244.10" y="427.36" text-anchor="end" class="tk">0.6</text>
<text x="244.10" y="406.38" text-anchor="end" class="tk">0.8</text>
<text x="244.10" y="385.40" text-anchor="end" class="tk">1.0</text>
<text x="249.30" y="497.60" text-anchor="middle" class="tk">0.0</text>
<text x="273.77" y="497.60" text-anchor="middle" class="tk">0.2</text>
<text x="298.24" y="497.60" text-anchor="middle" class="tk">0.4</text>
<text x="322.71" y="497.60" text-anchor="middle" class="tk">0.6</text>
<text x="347.19" y="497.60" text-anchor="middle" class="tk">0.8</text>
<text x="371.66" y="497.60" text-anchor="middle" class="tk">1.0</text>
<text x="396.13" y="497.60" text-anchor="middle" class="tk">1.2</text>
<text x="420.60" y="497.60" text-anchor="middle" class="tk">1.4</text>
<text transform="translate(226.30,433.25) rotate(-90)" text-anchor="middle" font-size="6.4" font-weight="bold" fill="#000">P (IDR<tspan font-size="6.4">max</tspan> &gt; IDR<tspan>max-IO</tspan>)</text>
<text x="338.90" y="508.80" text-anchor="middle" font-size="6.45" font-weight="bold" fill="#000">Spectral Acceleration, Sa (g)</text>
<text x="331.60" y="374.10" text-anchor="middle" class="ti">without pounding</text>
<polyline points="249.30,488.30 249.91,488.30 250.52,488.30 251.14,488.30 251.75,488.30 252.36,488.30 252.97,488.30 253.58,488.30 254.19,488.29 254.81,488.27 255.42,488.23 256.03,488.15 256.64,488.04 257.25,487.86 257.87,487.61 258.48,487.26 259.09,486.82 259.70,486.25 260.31,485.56 260.92,484.74 261.54,483.79 262.15,482.70 262.76,481.48 263.37,480.12 263.98,478.64 264.59,477.05 265.21,475.34 265.82,473.54 266.43,471.64 267.04,469.67 267.65,467.63 268.27,465.54 268.88,463.40 269.49,461.22 270.10,459.02 270.71,456.80 271.32,454.58 271.94,452.35 272.55,450.13 273.16,447.93 273.77,445.75 274.38,443.60 275.00,441.47 275.61,439.39 276.22,437.34 276.83,435.33 277.44,433.37 278.05,431.46 278.67,429.60 279.28,427.78 279.89,426.02 280.50,424.31 281.11,422.66 281.72,421.05 282.34,419.50 282.95,418.00 283.56,416.55 284.17,415.16 284.78,413.81 285.40,412.52 286.01,411.27 286.62,410.07 287.23,408.92 287.84,407.81 288.45,406.75 289.07,405.73 289.68,404.75 290.29,403.81 290.90,402.91 291.51,402.05 292.12,401.22 292.74,400.43 293.35,399.67 293.96,398.95 294.57,398.25 295.18,397.59 295.80,396.96 296.41,396.35 297.02,395.77 297.63,395.22 298.24,394.69 298.85,394.18 299.47,393.70 300.08,393.24 300.69,392.79 301.30,392.37 301.91,391.97 302.53,391.59 303.14,391.22 303.75,390.87 304.36,390.54 304.97,390.22 305.58,389.91 306.20,389.62 306.81,389.34 307.42,389.08 308.03,388.83 308.64,388.59 309.25,388.36 309.87,388.14 310.48,387.93 311.09,387.73 311.70,387.53 312.31,387.35 312.93,387.18 313.54,387.01 314.15,386.85 314.76,386.70 315.37,386.56 315.98,386.42 316.60,386.29 317.21,386.16 317.82,386.04 318.43,385.93 319.04,385.82 319.66,385.71 320.27,385.61 320.88,385.52 321.49,385.43 322.10,385.34 322.71,385.26 323.33,385.18 323.94,385.10 324.55,385.03 325.16,384.96 325.77,384.89 326.38,384.83 327.00,384.77 327.61,384.71 328.22,384.65 328.83,384.60 329.44,384.55 330.06,384.50 330.67,384.46 331.28,384.41 331.89,384.37 332.50,384.33 333.11,384.29 333.73,384.25 334.34,384.22 334.95,384.19 335.56,384.15 336.17,384.12 336.79,384.09 337.40,384.06 338.01,384.04 338.62,384.01 339.23,383.99 339.84,383.96 340.46,383.94 341.07,383.92 341.68,383.90 342.29,383.88 342.90,383.86 343.52,383.84 344.13,383.82 344.74,383.81 345.35,383.79 345.96,383.77 346.57,383.76 347.19,383.74 347.80,383.73 348.41,383.72 349.02,383.71 349.63,383.69 350.24,383.68 350.86,383.67 351.47,383.66 352.08,383.65 352.69,383.64 353.30,383.63 353.92,383.62 354.53,383.61 355.14,383.61 355.75,383.60 356.36,383.59 356.97,383.58 357.59,383.58 358.20,383.57 358.81,383.56 359.42,383.56 360.03,383.55 360.65,383.55 361.26,383.54 361.87,383.53 362.48,383.53 363.09,383.52 363.70,383.52 364.32,383.52 364.93,383.51 365.54,383.51 366.15,383.50 366.76,383.50 367.37,383.50 367.99,383.49 368.60,383.49 369.21,383.49 369.82,383.48 370.43,383.48 371.05,383.48 371.66,383.47 372.27,383.47 372.88,383.47 373.49,383.47 374.10,383.46 374.72,383.46 375.33,383.46 375.94,383.46 376.55,383.45 377.16,383.45 377.78,383.45 378.39,383.45 379.00,383.45 379.61,383.45 380.22,383.44 380.83,383.44 381.45,383.44 382.06,383.44 382.67,383.44 383.28,383.44 383.89,383.44 384.50,383.43 385.12,383.43 385.73,383.43 386.34,383.43 386.95,383.43 387.56,383.43 388.18,383.43 388.79,383.43 389.40,383.43 390.01,383.43 390.62,383.42 391.23,383.42 391.85,383.42 392.46,383.42 393.07,383.42 393.68,383.42 394.29,383.42 394.91,383.42 395.52,383.42 396.13,383.42 396.74,383.42 397.35,383.42 397.96,383.42 398.58,383.42 399.19,383.42 399.80,383.41 400.41,383.41 401.02,383.41 401.63,383.41 402.25,383.41 402.86,383.41 403.47,383.41 404.08,383.41 404.69,383.41 405.31,383.41 405.92,383.41 406.53,383.41 407.14,383.41 407.75,383.41 408.36,383.41 408.98,383.41 409.59,383.41 410.20,383.41 410.81,383.41 411.42,383.41 412.04,383.41 412.65,383.41 413.26,383.41 413.87,383.41 414.48,383.41 415.09,383.41 415.71,383.41 416.32,383.41 416.93,383.41 417.54,383.41 418.15,383.41 418.76,383.41 419.38,383.41 419.99,383.40 420.60,383.40" fill="none" stroke="#70AD47" stroke-width="1.3" stroke-dasharray="3.4 2.0" stroke-linejoin="round"/>
<polyline points="249.30,488.30 249.91,488.30 250.52,488.30 251.14,488.30 251.75,488.30 252.36,488.30 252.97,488.30 253.58,488.30 254.19,488.30 254.81,488.30 255.42,488.30 256.03,488.30 256.64,488.30 257.25,488.30 257.87,488.30 258.48,488.30 259.09,488.30 259.70,488.30 260.31,488.30 260.92,488.30 261.54,488.30 262.15,488.30 262.76,488.29 263.37,488.29 263.98,488.29 264.59,488.28 265.21,488.28 265.82,488.27 266.43,488.26 267.04,488.25 267.65,488.23 268.27,488.21 268.88,488.19 269.49,488.16 270.10,488.13 270.71,488.09 271.32,488.04 271.94,487.99 272.55,487.93 273.16,487.86 273.77,487.79 274.38,487.70 275.00,487.60 275.61,487.50 276.22,487.38 276.83,487.25 277.44,487.10 278.05,486.95 278.67,486.78 279.28,486.60 279.89,486.40 280.50,486.19 281.11,485.96 281.72,485.71 282.34,485.46 282.95,485.18 283.56,484.89 284.17,484.58 284.78,484.26 285.40,483.92 286.01,483.56 286.62,483.19 287.23,482.80 287.84,482.40 288.45,481.98 289.07,481.54 289.68,481.08 290.29,480.61 290.90,480.13 291.51,479.63 292.12,479.11 292.74,478.58 293.35,478.04 293.96,477.48 294.57,476.91 295.18,476.32 295.80,475.72 296.41,475.11 297.02,474.49 297.63,473.85 298.24,473.20 298.85,472.55 299.47,471.88 300.08,471.20 300.69,470.51 301.30,469.82 301.91,469.11 302.53,468.40 303.14,467.68 303.75,466.95 304.36,466.21 304.97,465.47 305.58,464.73 306.20,463.97 306.81,463.22 307.42,462.46 308.03,461.69 308.64,460.92 309.25,460.15 309.87,459.37 310.48,458.60 311.09,457.82 311.70,457.03 312.31,456.25 312.93,455.47 313.54,454.68 314.15,453.90 314.76,453.12 315.37,452.33 315.98,451.55 316.60,450.77 317.21,449.99 317.82,449.21 318.43,448.43 319.04,447.66 319.66,446.89 320.27,446.12 320.88,445.35 321.49,444.59 322.10,443.83 322.71,443.08 323.33,442.32 323.94,441.58 324.55,440.83 325.16,440.10 325.77,439.36 326.38,438.63 327.00,437.91 327.61,437.19 328.22,436.47 328.83,435.77 329.44,435.06 330.06,434.36 330.67,433.67 331.28,432.99 331.89,432.31 332.50,431.63 333.11,430.96 333.73,430.30 334.34,429.64 334.95,428.99 335.56,428.35 336.17,427.71 336.79,427.08 337.40,426.46 338.01,425.84 338.62,425.23 339.23,424.62 339.84,424.02 340.46,423.43 341.07,422.85 341.68,422.27 342.29,421.69 342.90,421.13 343.52,420.57 344.13,420.02 344.74,419.47 345.35,418.93 345.96,418.40 346.57,417.87 347.19,417.35 347.80,416.84 348.41,416.33 349.02,415.83 349.63,415.34 350.24,414.85 350.86,414.37 351.47,413.89 352.08,413.42 352.69,412.96 353.30,412.50 353.92,412.05 354.53,411.61 355.14,411.17 355.75,410.74 356.36,410.31 356.97,409.89 357.59,409.48 358.20,409.07 358.81,408.66 359.42,408.27 360.03,407.87 360.65,407.49 361.26,407.11 361.87,406.73 362.48,406.36 363.09,406.00 363.70,405.64 364.32,405.28 364.93,404.94 365.54,404.59 366.15,404.25 366.76,403.92 367.37,403.59 367.99,403.27 368.60,402.95 369.21,402.63 369.82,402.33 370.43,402.02 371.05,401.72 371.66,401.43 372.27,401.13 372.88,400.85 373.49,400.57 374.10,400.29 374.72,400.02 375.33,399.75 375.94,399.48 376.55,399.22 377.16,398.96 377.78,398.71 378.39,398.46 379.00,398.22 379.61,397.98 380.22,397.74 380.83,397.50 381.45,397.27 382.06,397.05 382.67,396.83 383.28,396.61 383.89,396.39 384.50,396.18 385.12,395.97 385.73,395.76 386.34,395.56 386.95,395.36 387.56,395.17 388.18,394.98 388.79,394.79 389.40,394.60 390.01,394.42 390.62,394.24 391.23,394.06 391.85,393.88 392.46,393.71 393.07,393.54 393.68,393.38 394.29,393.21 394.91,393.05 395.52,392.89 396.13,392.74 396.74,392.58 397.35,392.43 397.96,392.29 398.58,392.14 399.19,392.00 399.80,391.86 400.41,391.72 401.02,391.58 401.63,391.45 402.25,391.31 402.86,391.18 403.47,391.06 404.08,390.93 404.69,390.81 405.31,390.69 405.92,390.57 406.53,390.45 407.14,390.33 407.75,390.22 408.36,390.11 408.98,390.00 409.59,389.89 410.20,389.78 410.81,389.68 411.42,389.58 412.04,389.48 412.65,389.38 413.26,389.28 413.87,389.18 414.48,389.09 415.09,389.00 415.71,388.90 416.32,388.81 416.93,388.73 417.54,388.64 418.15,388.55 418.76,388.47 419.38,388.39 419.99,388.31 420.60,388.23" fill="none" stroke="#FFC000" stroke-width="1.2" stroke-dasharray="3.2 1.3 0.9 1.3" stroke-linejoin="round"/>
<polyline points="249.30,488.30 249.91,488.30 250.52,488.30 251.14,488.30 251.75,488.30 252.36,488.30 252.97,488.30 253.58,488.30 254.19,488.30 254.81,488.30 255.42,488.30 256.03,488.30 256.64,488.30 257.25,488.30 257.87,488.30 258.48,488.30 259.09,488.30 259.70,488.30 260.31,488.29 260.92,488.29 261.54,488.28 262.15,488.28 262.76,488.27 263.37,488.25 263.98,488.24 264.59,488.21 265.21,488.18 265.82,488.15 266.43,488.11 267.04,488.06 267.65,487.99 268.27,487.92 268.88,487.84 269.49,487.74 270.10,487.63 270.71,487.50 271.32,487.36 271.94,487.20 272.55,487.03 273.16,486.83 273.77,486.62 274.38,486.38 275.00,486.13 275.61,485.85 276.22,485.56 276.83,485.24 277.44,484.89 278.05,484.53 278.67,484.14 279.28,483.73 279.89,483.30 280.50,482.84 281.11,482.37 281.72,481.87 282.34,481.34 282.95,480.80 283.56,480.24 284.17,479.65 284.78,479.04 285.40,478.41 286.01,477.77 286.62,477.10 287.23,476.42 287.84,475.72 288.45,475.00 289.07,474.27 289.68,473.52 290.29,472.75 290.90,471.97 291.51,471.18 292.12,470.37 292.74,469.56 293.35,468.73 293.96,467.89 294.57,467.04 295.18,466.19 295.80,465.32 296.41,464.45 297.02,463.57 297.63,462.68 298.24,461.79 298.85,460.90 299.47,460.00 300.08,459.09 300.69,458.19 301.30,457.28 301.91,456.37 302.53,455.46 303.14,454.55 303.75,453.64 304.36,452.73 304.97,451.82 305.58,450.91 306.20,450.01 306.81,449.11 307.42,448.21 308.03,447.31 308.64,446.42 309.25,445.53 309.87,444.65 310.48,443.77 311.09,442.89 311.70,442.03 312.31,441.16 312.93,440.31 313.54,439.46 314.15,438.62 314.76,437.78 315.37,436.95 315.98,436.13 316.60,435.31 317.21,434.51 317.82,433.71 318.43,432.92 319.04,432.13 319.66,431.36 320.27,430.59 320.88,429.83 321.49,429.08 322.10,428.34 322.71,427.60 323.33,426.88 323.94,426.16 324.55,425.46 325.16,424.76 325.77,424.07 326.38,423.39 327.00,422.72 327.61,422.05 328.22,421.40 328.83,420.75 329.44,420.12 330.06,419.49 330.67,418.87 331.28,418.26 331.89,417.66 332.50,417.06 333.11,416.48 333.73,415.90 334.34,415.34 334.95,414.78 335.56,414.23 336.17,413.69 336.79,413.15 337.40,412.63 338.01,412.11 338.62,411.60 339.23,411.10 339.84,410.60 340.46,410.12 341.07,409.64 341.68,409.17 342.29,408.71 342.90,408.25 343.52,407.81 344.13,407.37 344.74,406.93 345.35,406.51 345.96,406.09 346.57,405.68 347.19,405.27 347.80,404.88 348.41,404.48 349.02,404.10 349.63,403.72 350.24,403.35 350.86,402.99 351.47,402.63 352.08,402.28 352.69,401.93 353.30,401.59 353.92,401.26 354.53,400.93 355.14,400.60 355.75,400.29 356.36,399.98 356.97,399.67 357.59,399.37 358.20,399.08 358.81,398.79 359.42,398.50 360.03,398.22 360.65,397.95 361.26,397.68 361.87,397.42 362.48,397.16 363.09,396.90 363.70,396.65 364.32,396.40 364.93,396.16 365.54,395.93 366.15,395.69 366.76,395.47 367.37,395.24 367.99,395.02 368.60,394.81 369.21,394.59 369.82,394.39 370.43,394.18 371.05,393.98 371.66,393.79 372.27,393.59 372.88,393.40 373.49,393.22 374.10,393.03 374.72,392.86 375.33,392.68 375.94,392.51 376.55,392.34 377.16,392.17 377.78,392.01 378.39,391.85 379.00,391.69 379.61,391.54 380.22,391.39 380.83,391.24 381.45,391.09 382.06,390.95 382.67,390.81 383.28,390.67 383.89,390.54 384.50,390.41 385.12,390.28 385.73,390.15 386.34,390.02 386.95,389.90 387.56,389.78 388.18,389.66 388.79,389.55 389.40,389.43 390.01,389.32 390.62,389.21 391.23,389.11 391.85,389.00 392.46,388.90 393.07,388.80 393.68,388.70 394.29,388.60 394.91,388.50 395.52,388.41 396.13,388.32 396.74,388.23 397.35,388.14 397.96,388.05 398.58,387.97 399.19,387.88 399.80,387.80 400.41,387.72 401.02,387.64 401.63,387.56 402.25,387.49 402.86,387.41 403.47,387.34 404.08,387.27 404.69,387.20 405.31,387.13 405.92,387.06 406.53,386.99 407.14,386.93 407.75,386.86 408.36,386.80 408.98,386.74 409.59,386.68 410.20,386.62 410.81,386.56 411.42,386.50 412.04,386.45 412.65,386.39 413.26,386.34 413.87,386.28 414.48,386.23 415.09,386.18 415.71,386.13 416.32,386.08 416.93,386.03 417.54,385.98 418.15,385.94 418.76,385.89 419.38,385.85 419.99,385.80 420.60,385.76" fill="none" stroke="#1a1a1a" stroke-width="1.05" stroke-dasharray="0 1.65" stroke-linecap="round" stroke-linejoin="round"/>
<polyline points="249.30,488.30 249.91,488.30 250.52,488.30 251.14,488.30 251.75,488.30 252.36,488.30 252.97,488.30 253.58,488.30 254.19,488.30 254.81,488.30 255.42,488.30 256.03,488.30 256.64,488.30 257.25,488.30 257.87,488.30 258.48,488.30 259.09,488.30 259.70,488.29 260.31,488.29 260.92,488.28 261.54,488.27 262.15,488.25 262.76,488.23 263.37,488.21 263.98,488.17 264.59,488.13 265.21,488.08 265.82,488.01 266.43,487.93 267.04,487.84 267.65,487.73 268.27,487.60 268.88,487.45 269.49,487.28 270.10,487.08 270.71,486.86 271.32,486.62 271.94,486.35 272.55,486.05 273.16,485.73 273.77,485.37 274.38,484.99 275.00,484.58 275.61,484.13 276.22,483.66 276.83,483.15 277.44,482.62 278.05,482.05 278.67,481.46 279.28,480.83 279.89,480.18 280.50,479.50 281.11,478.79 281.72,478.05 282.34,477.29 282.95,476.50 283.56,475.69 284.17,474.85 284.78,473.99 285.40,473.11 286.01,472.21 286.62,471.30 287.23,470.36 287.84,469.41 288.45,468.44 289.07,467.46 289.68,466.47 290.29,465.46 290.90,464.44 291.51,463.41 292.12,462.38 292.74,461.34 293.35,460.29 293.96,459.23 294.57,458.17 295.18,457.11 295.80,456.05 296.41,454.98 297.02,453.91 297.63,452.85 298.24,451.78 298.85,450.72 299.47,449.66 300.08,448.60 300.69,447.54 301.30,446.50 301.91,445.45 302.53,444.42 303.14,443.38 303.75,442.36 304.36,441.34 304.97,440.34 305.58,439.34 306.20,438.34 306.81,437.36 307.42,436.39 308.03,435.43 308.64,434.48 309.25,433.53 309.87,432.60 310.48,431.68 311.09,430.77 311.70,429.88 312.31,428.99 312.93,428.12 313.54,427.25 314.15,426.40 314.76,425.56 315.37,424.74 315.98,423.92 316.60,423.12 317.21,422.33 317.82,421.55 318.43,420.78 319.04,420.03 319.66,419.29 320.27,418.56 320.88,417.84 321.49,417.13 322.10,416.44 322.71,415.76 323.33,415.09 323.94,414.43 324.55,413.78 325.16,413.15 325.77,412.52 326.38,411.91 327.00,411.31 327.61,410.72 328.22,410.14 328.83,409.57 329.44,409.02 330.06,408.47 330.67,407.93 331.28,407.41 331.89,406.89 332.50,406.39 333.11,405.89 333.73,405.41 334.34,404.93 334.95,404.46 335.56,404.01 336.17,403.56 336.79,403.12 337.40,402.69 338.01,402.27 338.62,401.86 339.23,401.45 339.84,401.06 340.46,400.67 341.07,400.29 341.68,399.92 342.29,399.56 342.90,399.20 343.52,398.85 344.13,398.51 344.74,398.18 345.35,397.85 345.96,397.53 346.57,397.22 347.19,396.91 347.80,396.61 348.41,396.32 349.02,396.03 349.63,395.75 350.24,395.48 350.86,395.21 351.47,394.95 352.08,394.69 352.69,394.44 353.30,394.19 353.92,393.95 354.53,393.72 355.14,393.49 355.75,393.26 356.36,393.05 356.97,392.83 357.59,392.62 358.20,392.41 358.81,392.21 359.42,392.02 360.03,391.83 360.65,391.64 361.26,391.45 361.87,391.28 362.48,391.10 363.09,390.93 363.70,390.76 364.32,390.60 364.93,390.44 365.54,390.28 366.15,390.13 366.76,389.98 367.37,389.83 367.99,389.69 368.60,389.55 369.21,389.41 369.82,389.28 370.43,389.15 371.05,389.02 371.66,388.90 372.27,388.77 372.88,388.65 373.49,388.54 374.10,388.42 374.72,388.31 375.33,388.20 375.94,388.10 376.55,387.99 377.16,387.89 377.78,387.79 378.39,387.70 379.00,387.60 379.61,387.51 380.22,387.42 380.83,387.33 381.45,387.24 382.06,387.16 382.67,387.08 383.28,386.99 383.89,386.92 384.50,386.84 385.12,386.76 385.73,386.69 386.34,386.62 386.95,386.55 387.56,386.48 388.18,386.41 388.79,386.34 389.40,386.28 390.01,386.22 390.62,386.16 391.23,386.10 391.85,386.04 392.46,385.98 393.07,385.92 393.68,385.87 394.29,385.82 394.91,385.76 395.52,385.71 396.13,385.66 396.74,385.61 397.35,385.56 397.96,385.52 398.58,385.47 399.19,385.43 399.80,385.38 400.41,385.34 401.02,385.30 401.63,385.26 402.25,385.22 402.86,385.18 403.47,385.14 404.08,385.10 404.69,385.07 405.31,385.03 405.92,385.00 406.53,384.96 407.14,384.93 407.75,384.90 408.36,384.86 408.98,384.83 409.59,384.80 410.20,384.77 410.81,384.74 411.42,384.72 412.04,384.69 412.65,384.66 413.26,384.63 413.87,384.61 414.48,384.58 415.09,384.56 415.71,384.53 416.32,384.51 416.93,384.49 417.54,384.46 418.15,384.44 418.76,384.42 419.38,384.40 419.99,384.38 420.60,384.36" fill="none" stroke="#1a1a1a" stroke-width="1.05" stroke-dasharray="0 1.65" stroke-linecap="round" stroke-linejoin="round"/>
<polyline points="249.30,488.30 249.91,488.30 250.52,488.30 251.14,488.30 251.75,488.30 252.36,488.30 252.97,488.30 253.58,488.30 254.19,488.30 254.81,488.30 255.42,488.29 256.03,488.28 256.64,488.26 257.25,488.23 257.87,488.19 258.48,488.11 259.09,488.01 259.70,487.87 260.31,487.69 260.92,487.46 261.54,487.17 262.15,486.82 262.76,486.40 263.37,485.91 263.98,485.35 264.59,484.71 265.21,483.98 265.82,483.18 266.43,482.30 267.04,481.34 267.65,480.31 268.27,479.20 268.88,478.02 269.49,476.77 270.10,475.46 270.71,474.09 271.32,472.67 271.94,471.19 272.55,469.68 273.16,468.12 273.77,466.53 274.38,464.91 275.00,463.26 275.61,461.59 276.22,459.91 276.83,458.21 277.44,456.51 278.05,454.80 278.67,453.09 279.28,451.39 279.89,449.69 280.50,448.00 281.11,446.33 281.72,444.66 282.34,443.02 282.95,441.39 283.56,439.79 284.17,438.21 284.78,436.65 285.40,435.12 286.01,433.61 286.62,432.13 287.23,430.69 287.84,429.27 288.45,427.88 289.07,426.52 289.68,425.19 290.29,423.89 290.90,422.62 291.51,421.38 292.12,420.18 292.74,419.01 293.35,417.86 293.96,416.75 294.57,415.67 295.18,414.61 295.80,413.59 296.41,412.60 297.02,411.63 297.63,410.70 298.24,409.79 298.85,408.90 299.47,408.05 300.08,407.22 300.69,406.42 301.30,405.64 301.91,404.89 302.53,404.16 303.14,403.45 303.75,402.76 304.36,402.10 304.97,401.46 305.58,400.84 306.20,400.24 306.81,399.66 307.42,399.10 308.03,398.56 308.64,398.04 309.25,397.53 309.87,397.04 310.48,396.57 311.09,396.12 311.70,395.68 312.31,395.25 312.93,394.84 313.54,394.44 314.15,394.06 314.76,393.69 315.37,393.33 315.98,392.99 316.60,392.66 317.21,392.33 317.82,392.02 318.43,391.73 319.04,391.44 319.66,391.16 320.27,390.89 320.88,390.63 321.49,390.38 322.10,390.14 322.71,389.91 323.33,389.68 323.94,389.46 324.55,389.25 325.16,389.05 325.77,388.86 326.38,388.67 327.00,388.49 327.61,388.31 328.22,388.14 328.83,387.98 329.44,387.82 330.06,387.67 330.67,387.53 331.28,387.39 331.89,387.25 332.50,387.12 333.11,386.99 333.73,386.87 334.34,386.75 334.95,386.64 335.56,386.53 336.17,386.42 336.79,386.32 337.40,386.22 338.01,386.13 338.62,386.03 339.23,385.95 339.84,385.86 340.46,385.78 341.07,385.70 341.68,385.62 342.29,385.55 342.90,385.47 343.52,385.41 344.13,385.34 344.74,385.27 345.35,385.21 345.96,385.15 346.57,385.09 347.19,385.04 347.80,384.98 348.41,384.93 349.02,384.88 349.63,384.83 350.24,384.79 350.86,384.74 351.47,384.70 352.08,384.65 352.69,384.61 353.30,384.57 353.92,384.54 354.53,384.50 355.14,384.46 355.75,384.43 356.36,384.39 356.97,384.36 357.59,384.33 358.20,384.30 358.81,384.27 359.42,384.24 360.03,384.22 360.65,384.19 361.26,384.17 361.87,384.14 362.48,384.12 363.09,384.10 363.70,384.07 364.32,384.05 364.93,384.03 365.54,384.01 366.15,383.99 366.76,383.97 367.37,383.96 367.99,383.94 368.60,383.92 369.21,383.91 369.82,383.89 370.43,383.87 371.05,383.86 371.66,383.85 372.27,383.83 372.88,383.82 373.49,383.80 374.10,383.79 374.72,383.78 375.33,383.77 375.94,383.76 376.55,383.75 377.16,383.74 377.78,383.73 378.39,383.72 379.00,383.71 379.61,383.70 380.22,383.69 380.83,383.68 381.45,383.67 382.06,383.66 382.67,383.65 383.28,383.65 383.89,383.64 384.50,383.63 385.12,383.63 385.73,383.62 386.34,383.61 386.95,383.61 387.56,383.60 388.18,383.59 388.79,383.59 389.40,383.58 390.01,383.58 390.62,383.57 391.23,383.57 391.85,383.56 392.46,383.56 393.07,383.55 393.68,383.55 394.29,383.54 394.91,383.54 395.52,383.54 396.13,383.53 396.74,383.53 397.35,383.52 397.96,383.52 398.58,383.52 399.19,383.51 399.80,383.51 400.41,383.51 401.02,383.50 401.63,383.50 402.25,383.50 402.86,383.50 403.47,383.49 404.08,383.49 404.69,383.49 405.31,383.48 405.92,383.48 406.53,383.48 407.14,383.48 407.75,383.48 408.36,383.47 408.98,383.47 409.59,383.47 410.20,383.47 410.81,383.47 411.42,383.46 412.04,383.46 412.65,383.46 413.26,383.46 413.87,383.46 414.48,383.46 415.09,383.45 415.71,383.45 416.32,383.45 416.93,383.45 417.54,383.45 418.15,383.45 418.76,383.45 419.38,383.44 419.99,383.44 420.60,383.44" fill="none" stroke="#FF0000" stroke-width="1.3" stroke-linejoin="round"/>
<polyline points="249.30,488.30 249.91,488.30 250.52,488.30 251.14,488.30 251.75,488.30 252.36,488.30 252.97,488.30 253.58,488.30 254.19,488.30 254.81,488.30 255.42,488.30 256.03,488.30 256.64,488.30 257.25,488.29 257.87,488.28 258.48,488.27 259.09,488.25 259.70,488.23 260.31,488.19 260.92,488.14 261.54,488.07 262.15,487.99 262.76,487.88 263.37,487.74 263.98,487.57 264.59,487.38 265.21,487.14 265.82,486.87 266.43,486.56 267.04,486.21 267.65,485.81 268.27,485.36 268.88,484.87 269.49,484.33 270.10,483.75 270.71,483.11 271.32,482.43 271.94,481.70 272.55,480.93 273.16,480.11 273.77,479.24 274.38,478.33 275.00,477.38 275.61,476.39 276.22,475.37 276.83,474.31 277.44,473.21 278.05,472.09 278.67,470.93 279.28,469.75 279.89,468.55 280.50,467.32 281.11,466.07 281.72,464.81 282.34,463.53 282.95,462.24 283.56,460.94 284.17,459.62 284.78,458.31 285.40,456.98 286.01,455.66 286.62,454.33 287.23,453.00 287.84,451.68 288.45,450.36 289.07,449.04 289.68,447.73 290.29,446.43 290.90,445.13 291.51,443.85 292.12,442.57 292.74,441.31 293.35,440.06 293.96,438.83 294.57,437.61 295.18,436.40 295.80,435.21 296.41,434.03 297.02,432.88 297.63,431.74 298.24,430.61 298.85,429.51 299.47,428.42 300.08,427.35 300.69,426.30 301.30,425.26 301.91,424.25 302.53,423.25 303.14,422.28 303.75,421.32 304.36,420.38 304.97,419.46 305.58,418.56 306.20,417.67 306.81,416.81 307.42,415.96 308.03,415.13 308.64,414.32 309.25,413.53 309.87,412.76 310.48,412.00 311.09,411.26 311.70,410.54 312.31,409.83 312.93,409.14 313.54,408.47 314.15,407.81 314.76,407.17 315.37,406.54 315.98,405.93 316.60,405.33 317.21,404.75 317.82,404.18 318.43,403.63 319.04,403.09 319.66,402.57 320.27,402.05 320.88,401.55 321.49,401.07 322.10,400.59 322.71,400.13 323.33,399.68 323.94,399.24 324.55,398.82 325.16,398.40 325.77,397.99 326.38,397.60 327.00,397.22 327.61,396.84 328.22,396.48 328.83,396.12 329.44,395.78 330.06,395.44 330.67,395.12 331.28,394.80 331.89,394.49 332.50,394.19 333.11,393.90 333.73,393.61 334.34,393.34 334.95,393.07 335.56,392.80 336.17,392.55 336.79,392.30 337.40,392.06 338.01,391.82 338.62,391.59 339.23,391.37 339.84,391.16 340.46,390.95 341.07,390.74 341.68,390.54 342.29,390.35 342.90,390.16 343.52,389.98 344.13,389.80 344.74,389.63 345.35,389.46 345.96,389.30 346.57,389.14 347.19,388.98 347.80,388.83 348.41,388.68 349.02,388.54 349.63,388.40 350.24,388.27 350.86,388.14 351.47,388.01 352.08,387.89 352.69,387.77 353.30,387.65 353.92,387.54 354.53,387.43 355.14,387.32 355.75,387.21 356.36,387.11 356.97,387.01 357.59,386.92 358.20,386.82 358.81,386.73 359.42,386.64 360.03,386.56 360.65,386.47 361.26,386.39 361.87,386.31 362.48,386.23 363.09,386.16 363.70,386.09 364.32,386.02 364.93,385.95 365.54,385.88 366.15,385.81 366.76,385.75 367.37,385.69 367.99,385.63 368.60,385.57 369.21,385.51 369.82,385.46 370.43,385.41 371.05,385.35 371.66,385.30 372.27,385.25 372.88,385.20 373.49,385.16 374.10,385.11 374.72,385.07 375.33,385.02 375.94,384.98 376.55,384.94 377.16,384.90 377.78,384.86 378.39,384.83 379.00,384.79 379.61,384.75 380.22,384.72 380.83,384.68 381.45,384.65 382.06,384.62 382.67,384.59 383.28,384.56 383.89,384.53 384.50,384.50 385.12,384.47 385.73,384.45 386.34,384.42 386.95,384.39 387.56,384.37 388.18,384.34 388.79,384.32 389.40,384.30 390.01,384.27 390.62,384.25 391.23,384.23 391.85,384.21 392.46,384.19 393.07,384.17 393.68,384.15 394.29,384.13 394.91,384.11 395.52,384.10 396.13,384.08 396.74,384.06 397.35,384.05 397.96,384.03 398.58,384.01 399.19,384.00 399.80,383.98 400.41,383.97 401.02,383.96 401.63,383.94 402.25,383.93 402.86,383.92 403.47,383.90 404.08,383.89 404.69,383.88 405.31,383.87 405.92,383.86 406.53,383.84 407.14,383.83 407.75,383.82 408.36,383.81 408.98,383.80 409.59,383.79 410.20,383.78 410.81,383.77 411.42,383.77 412.04,383.76 412.65,383.75 413.26,383.74 413.87,383.73 414.48,383.72 415.09,383.72 415.71,383.71 416.32,383.70 416.93,383.69 417.54,383.69 418.15,383.68 418.76,383.67 419.38,383.67 419.99,383.66 420.60,383.65" fill="none" stroke="#0000FF" stroke-width="1.3" stroke-linejoin="round"/>
<path d="M340.0 27.6L349.5 36.6H351.5" stroke="#404040" stroke-width="0.6" fill="none"/>
<rect x="352.4" y="33.6" width="34.3" height="7.0" fill="#fff"/>
<text x="352.9" y="38.6" class="an">R<tspan font-size="4.0" dy="1.5">rup</tspan><tspan dy="-1.5"> = 120 km</tspan></text>
<path d="M291.1 68.9L301.5 81.6H303.5" stroke="#404040" stroke-width="0.6" fill="none"/>
<rect x="306.4" y="76.6" width="31.0" height="7.0" fill="#fff"/>
<text x="306.9" y="81.6" class="an">R<tspan font-size="4.0" dy="1.5">rup</tspan><tspan dy="-1.5"> = 80 km</tspan></text>
<path d="M358.4 213.1L370.5 225.7H372.5" stroke="#404040" stroke-width="0.6" fill="none"/>
<rect x="375.1" y="223.0" width="34.3" height="7.0" fill="#fff"/>
<text x="375.6" y="228.0" class="an">R<tspan font-size="4.0" dy="1.5">rup</tspan><tspan dy="-1.5"> = 120 km</tspan></text>
<path d="M296.9 266.1L314.2 278.3H316.2" stroke="#404040" stroke-width="0.6" fill="none"/>
<rect x="317.4" y="275.4" width="31.0" height="7.0" fill="#fff"/>
<text x="317.9" y="280.4" class="an">R<tspan font-size="4.0" dy="1.5">rup</tspan><tspan dy="-1.5"> = 80 km</tspan></text>
<path d="M364.9 396.4L374.8 410.0H376.8" stroke="#404040" stroke-width="0.6" fill="none"/>
<rect x="377.2" y="407.4" width="34.3" height="7.0" fill="#fff"/>
<text x="377.7" y="412.4" class="an">R<tspan font-size="4.0" dy="1.5">rup</tspan><tspan dy="-1.5"> = 120 km</tspan></text>
<path d="M300.3 448.6L316.6 462.9H318.6" stroke="#404040" stroke-width="0.6" fill="none"/>
<rect x="319.8" y="459.8" width="31.0" height="7.0" fill="#fff"/>
<text x="320.3" y="464.8" class="an">R<tspan font-size="4.0" dy="1.5">rup</tspan><tspan dy="-1.5"> = 80 km</tspan></text>
<path d="M19.0 152.0h11.0" stroke="#70AD47" stroke-width="1.3" stroke-dasharray="3.9 2.9" fill="none"/>
<path d="M116.4 152.0h13.1" stroke="#FFC000" stroke-width="1.3" stroke-dasharray="3.0 1.9 1.1 1.9" fill="none"/>
<path d="M19.0 161.1h13.2" stroke="#FF0000" stroke-width="1.5" fill="none"/>
<path d="M116.4 161.1h13.4" stroke="#0000FF" stroke-width="1.5" fill="none"/>
<text x="33.4" y="154.0" class="lg">Vector [Sa , Mw = 5.50]</text>
<text x="130.8" y="154.0" class="lg">Vector [Sa , Mw = 7.90]</text>
<text x="33.4" y="163.1" class="lg">Scalar Sa</text>
<text x="130.8" y="163.1" class="lg">Vector [Sa , Mw = 6.50] (median)</text>
<path d="M16.4 335.6h11.1" stroke="#70AD47" stroke-width="1.3" stroke-dasharray="3.9 2.9" fill="none"/>
<path d="M115.7 335.6h13.0" stroke="#FFC000" stroke-width="1.3" stroke-dasharray="3.0 1.9 1.1 1.9" fill="none"/>
<path d="M16.4 345.4h13.3" stroke="#FF0000" stroke-width="1.5" fill="none"/>
<path d="M115.7 345.4h13.3" stroke="#0000FF" stroke-width="1.5" fill="none"/>
<text x="30.9" y="337.6" class="lg">Vector [Sa , Mw = 5.50]</text>
<text x="130.0" y="337.6" class="lg">Vector [Sa , Mw = 7.90]</text>
<text x="30.9" y="347.4" class="lg">Scalar Sa</text>
<text x="130.0" y="347.4" class="lg">Vector [Sa , Mw = 6.50] (median)</text>
<path d="M11.4 519.7h11.4" stroke="#70AD47" stroke-width="1.3" stroke-dasharray="3.9 2.9" fill="none"/>
<path d="M114.1 519.7h13.0" stroke="#FFC000" stroke-width="1.3" stroke-dasharray="3.0 1.9 1.1 1.9" fill="none"/>
<path d="M11.4 528.9h13.6" stroke="#FF0000" stroke-width="1.5" fill="none"/>
<path d="M114.1 528.9h13.3" stroke="#0000FF" stroke-width="1.5" fill="none"/>
<text x="26.2" y="521.7" class="lg">Vector [Sa , Mw = 5.50]</text>
<text x="128.4" y="521.7" class="lg">Vector [Sa , Mw = 7.90]</text>
<text x="26.2" y="530.9" class="lg">Scalar Sa</text>
<text x="128.4" y="530.9" class="lg">Vector [Sa , Mw = 6.50] (median)</text>
<path d="M231.9 152.0h11.4" stroke="#70AD47" stroke-width="1.3" stroke-dasharray="3.9 2.9" fill="none"/>
<path d="M320.1 152.0h12.0" stroke="#FFC000" stroke-width="1.3" stroke-dasharray="3.0 1.9 1.1 1.9" fill="none"/>
<path d="M231.9 161.1h13.6" stroke="#FF0000" stroke-width="1.5" fill="none"/>
<path d="M320.1 161.1h12.3" stroke="#0000FF" stroke-width="1.5" fill="none"/>
<text x="246.7" y="154.0" class="lg">Vector [Sa , Rrup = 9.60 km]</text>
<text x="333.4" y="154.0" class="lg">Vector [Sa , Rrup =&#160; 185.92 km]</text>
<text x="246.7" y="163.1" class="lg">Scalar Sa</text>
<text x="333.4" y="163.1" class="lg">Vector [Sa , Rrup =&#160; 40.80 km] (median)</text>
<path d="M231.9 335.6h11.1" stroke="#70AD47" stroke-width="1.3" stroke-dasharray="3.9 2.9" fill="none"/>
<path d="M319.6 335.6h12.3" stroke="#FFC000" stroke-width="1.3" stroke-dasharray="3.0 1.9 1.1 1.9" fill="none"/>
<path d="M231.9 345.4h13.3" stroke="#FF0000" stroke-width="1.5" fill="none"/>
<path d="M319.6 345.4h12.6" stroke="#0000FF" stroke-width="1.5" fill="none"/>
<text x="246.4" y="337.6" class="lg">Vector [Sa , Rrup = 9.60 km]</text>
<text x="333.2" y="337.6" class="lg">Vector [Sa , Rrup =&#160; 185.92 km]</text>
<text x="246.4" y="347.4" class="lg">Scalar Sa</text>
<text x="333.2" y="347.4" class="lg">Vector [Sa , Rrup =&#160; 40.80 km] (median)</text>
<path d="M231.9 519.7h11.6" stroke="#70AD47" stroke-width="1.3" stroke-dasharray="3.9 2.9" fill="none"/>
<path d="M320.1 519.7h12.6" stroke="#FFC000" stroke-width="1.3" stroke-dasharray="3.0 1.9 1.1 1.9" fill="none"/>
<path d="M231.9 528.9h13.8" stroke="#FF0000" stroke-width="1.5" fill="none"/>
<path d="M320.1 528.9h12.9" stroke="#0000FF" stroke-width="1.5" fill="none"/>
<text x="246.9" y="521.7" class="lg">Vector [Sa , Rrup = 9.60 km]</text>
<text x="334.0" y="521.7" class="lg">Vector [Sa , Rrup =&#160; 185.92 km]</text>
<text x="246.9" y="530.9" class="lg">Scalar Sa</text>
<text x="334.0" y="530.9" class="lg">Vector [Sa , Rrup =&#160; 40.80 km] (median)</text>
<text x="106.0" y="178.3" text-anchor="middle" textLength="129.9" lengthAdjust="spacingAndGlyphs" class="cp">(<tspan font-weight="bold">a1</tspan>) influence of M<tspan font-size="5.8" font-style="italic" dy="0.7">w</tspan><tspan dy="-0.7"> – d</tspan><tspan font-size="5.8" dy="0.9">g</tspan><tspan dy="-0.9"> = 0.0 cm</tspan></text>
<text x="106.5" y="362.3" text-anchor="middle" textLength="129.0" lengthAdjust="spacingAndGlyphs" class="cp">(<tspan font-weight="bold">a2</tspan>) influence of M<tspan font-size="5.8" font-style="italic" dy="0.7">w</tspan><tspan dy="-0.7"> – d</tspan><tspan font-size="5.8" dy="0.9">g</tspan><tspan dy="-0.9"> = 2.0 cm</tspan></text>
<text x="106.2" y="545.4" text-anchor="middle" textLength="158.2" lengthAdjust="spacingAndGlyphs" class="cp">(<tspan font-weight="bold">a3</tspan>) influence of M<tspan font-size="5.8" font-style="italic" dy="0.7">w</tspan><tspan dy="-0.7"> – without pounding</tspan></text>
<text x="325.6" y="178.3" text-anchor="middle" textLength="132.1" lengthAdjust="spacingAndGlyphs" class="cp">(<tspan font-weight="bold">b1</tspan>) influence of R<tspan font-size="5.8" font-style="italic" dy="0.7">rup</tspan><tspan dy="-0.7"> – d</tspan><tspan font-size="5.8" dy="0.9">g</tspan><tspan dy="-0.9"> = 0.0 cm</tspan></text>
<text x="325.6" y="362.3" text-anchor="middle" textLength="132.1" lengthAdjust="spacingAndGlyphs" class="cp">(<tspan font-weight="bold">b2</tspan>) influence of R<tspan font-size="5.8" font-style="italic" dy="0.7">rup</tspan><tspan dy="-0.7"> – d</tspan><tspan font-size="5.8" dy="0.9">g</tspan><tspan dy="-0.9"> = 2.0 cm</tspan></text>
<text x="324.6" y="545.4" text-anchor="middle" textLength="157.1" lengthAdjust="spacingAndGlyphs" class="cp">(<tspan font-weight="bold">b3</tspan>) influence of R<tspan font-size="5.8" font-style="italic" dy="0.7">rup</tspan><tspan dy="-0.7"> – without pounding</tspan></text>
</svg></body></html>
